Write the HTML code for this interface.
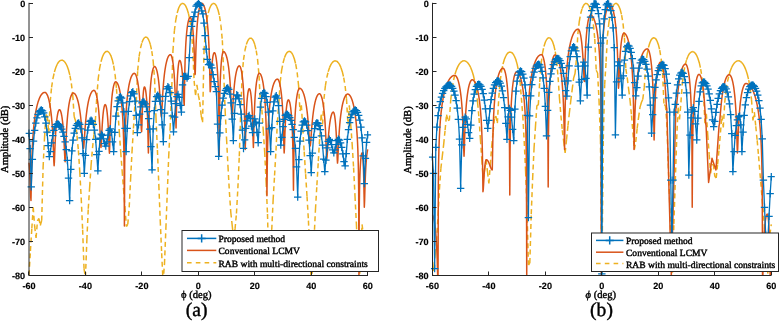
<!DOCTYPE html>
<html><head><meta charset="utf-8"><style>
html,body{margin:0;padding:0;background:#fff;}
svg{display:block;}
text{text-rendering:geometricPrecision;}
.tk{font-family:"Liberation Sans",sans-serif;font-weight:bold;font-size:9.1px;fill:#000;stroke:#000;stroke-width:0.15px;}
.lg{font-family:"Liberation Serif",serif;font-size:9.56px;fill:#000;stroke:#000;stroke-width:0.4px;}
.yl{font-family:"Liberation Serif",serif;font-size:10.6px;fill:#000;stroke:#000;stroke-width:0.4px;}
.xl{font-family:"Liberation Serif",serif;font-size:10.6px;fill:#000;stroke:#000;stroke-width:0.4px;}
.sub{font-family:"Liberation Serif",serif;font-size:19.6px;fill:#000;stroke:#000;stroke-width:0.4px;}
</style></head><body>
<svg width="779" height="321" viewBox="0 0 779 321">
<rect width="779" height="321" fill="#fff"/>
<defs>
<clipPath id="c0"><rect x="25.50" y="0" width="345.70" height="275.80"/></clipPath>
<clipPath id="c1"><rect x="428.90" y="0" width="345.90" height="275.80"/></clipPath>
</defs>
<g clip-path="url(#c0)" fill="none" stroke-linejoin="round">
<path d="M29.00,275.30L30.41,251.01M30.41,251.01L31.82,228.55M31.82,228.55L33.23,207.30M33.23,207.30L34.64,226.19M34.64,226.19L36.06,237.90M36.06,237.90L37.47,220.90M37.47,220.90L38.88,218.35M38.88,218.35L40.29,225.43M40.29,225.43L41.70,220.41M41.70,220.41L43.11,166.99M43.11,166.99L44.52,137.75M44.52,137.75L45.94,114.57M45.94,114.57L47.35,116.35M47.35,116.35L48.76,133.25M48.76,133.25L50.17,101.84M50.17,101.84L51.58,87.43M51.58,87.43L52.99,78.35M52.99,78.35L54.40,72.03M54.40,72.03L55.81,67.48M55.81,67.48L57.22,64.22M57.22,64.22L58.64,61.99M58.64,61.99L60.05,60.64M60.05,60.64L61.46,60.10M61.46,60.10L62.87,60.33M62.87,60.33L64.28,61.35M64.28,61.35L65.69,63.21M65.69,63.21L67.10,66.04M67.10,66.04L68.52,70.03M68.52,70.03L69.93,75.56M69.93,75.56L71.34,83.36M71.34,83.36L72.75,95.12M72.75,95.12L74.16,116.48M74.16,116.48L75.57,120.94M75.57,120.94L76.98,135.67M76.98,135.67L78.39,150.41M78.39,150.41L79.81,172.06M79.81,172.06L81.22,198.34M81.22,198.34L82.63,229.74M82.63,229.74L84.04,268.84M84.04,268.84L85.45,277.34M85.45,277.34L86.86,239.94M86.86,239.94L88.27,208.76M88.27,208.76L89.68,186.90M89.68,186.90L91.09,165.04M91.09,165.04L92.51,148.14M92.51,148.14L93.92,134.54M93.92,134.54L95.33,120.94M95.33,120.94L96.74,97.80M96.74,97.80L98.15,79.27M98.15,79.27L99.56,68.70M99.56,68.70L100.97,61.76M100.97,61.76L102.39,57.02M102.39,57.02L103.80,53.88M103.80,53.88L105.21,52.01M105.21,52.01L106.62,51.26M106.62,51.26L108.03,51.58M108.03,51.58L109.44,52.99M109.44,52.99L110.85,55.60M110.85,55.60L112.26,59.64M112.26,59.64L113.67,65.60M113.67,65.60L115.09,74.45M115.09,74.45L116.50,88.82M116.50,88.82L117.91,112.10M117.91,112.10L119.32,132.19M119.32,132.19L120.73,152.28M120.73,152.28L122.14,170.87M122.14,170.87L123.55,189.09M123.55,189.09L124.96,207.30M124.96,207.30L126.38,226.73M126.38,226.73L127.79,224.30M127.79,224.30L129.20,207.30M129.20,207.30L130.61,178.97M130.61,178.97L132.02,151.66M132.02,151.66L133.43,128.48M133.43,128.48L134.84,105.30M134.84,105.30L136.25,101.78M136.25,101.78L137.67,70.57M137.67,70.57L139.08,56.57M139.08,56.57L140.49,48.11M140.49,48.11L141.90,42.65M141.90,42.65L143.31,39.22M143.31,39.22L144.72,37.40M144.72,37.40L146.13,36.99M146.13,36.99L147.54,37.95M147.54,37.95L148.96,40.38M148.96,40.38L150.37,44.55M150.37,44.55L151.78,51.05M151.78,51.05L153.19,61.25M153.19,61.25L154.60,79.35M154.60,79.35L156.01,118.05M156.01,118.05L157.42,149.93M157.42,149.93L158.84,185.20M158.84,185.20L160.25,220.62M160.25,220.62L161.66,253.20M161.66,253.20L163.07,282.10M163.07,282.10L164.48,263.86M164.48,263.86L165.89,228.32M165.89,228.32L167.30,192.42M167.30,192.42L168.71,156.30M168.71,156.30L170.12,127.97M170.12,127.97L171.54,95.54M171.54,95.54L172.95,50.83M172.95,50.83L174.36,30.96M174.36,30.96L175.77,20.00M175.77,20.00L177.18,12.95M177.18,12.95L178.59,8.27M178.59,8.27L180.00,5.28M180.00,5.28L181.41,3.68M181.41,3.68L182.83,3.32M182.83,3.32L184.24,4.05M184.24,4.05L185.65,5.87M185.65,5.87L187.06,8.94M187.06,8.94L188.47,13.54M188.47,13.54L189.88,20.25M189.88,20.25L191.29,30.37M191.29,30.37L192.70,47.68M192.70,47.68L194.12,80.93M194.12,80.93L195.53,95.10M195.53,95.10L196.94,84.90M196.94,84.90L198.35,95.10M198.35,95.10L199.76,101.90M199.76,101.90L201.17,115.50M201.17,115.50L202.58,122.30M202.58,122.30L204.00,50.83M204.00,50.83L205.41,30.96M205.41,30.96L206.82,20.00M206.82,20.00L208.23,12.95M208.23,12.95L209.64,8.27M209.64,8.27L211.05,5.28M211.05,5.28L212.46,3.68M212.46,3.68L213.87,3.33M213.87,3.33L215.28,4.22M215.28,4.22L216.70,6.46M216.70,6.46L218.11,10.29M218.11,10.29L219.52,16.19M219.52,16.19L220.93,25.23M220.93,25.23L222.34,40.34M222.34,40.34L223.75,74.26M223.75,74.26L225.16,110.97M225.16,110.97L226.58,139.30M226.58,139.30L227.99,166.50M227.99,166.50L229.40,192.00M229.40,192.00L230.81,212.53M230.81,212.53L232.22,225.61M232.22,225.61L233.63,238.68M233.63,238.68L235.04,228.94M235.04,228.94L236.45,213.48M236.45,213.48L237.87,188.17M237.87,188.17L239.28,156.30M239.28,156.30L240.69,113.80M240.69,113.80L242.10,75.63M242.10,75.63L243.51,59.81M243.51,59.81L244.92,50.54M244.92,50.54L246.33,44.58M246.33,44.58L247.74,40.79M247.74,40.79L249.16,38.67M249.16,38.67L250.57,37.98M250.57,37.98L251.98,38.67M251.98,38.67L253.39,40.79M253.39,40.79L254.80,44.58M254.80,44.58L256.21,50.54M256.21,50.54L257.62,59.81M257.62,59.81L259.03,75.63M259.03,75.63L260.44,104.20M260.44,104.20L261.86,109.55M261.86,109.55L263.27,130.80M263.27,130.80L264.68,152.05M264.68,152.05L266.09,181.99M266.09,181.99L267.50,214.10M267.50,214.10L268.91,269.96M268.91,269.96L270.32,268.84M270.32,268.84L271.74,229.74M271.74,229.74L273.15,199.65M273.15,199.65L274.56,175.57M274.56,175.57L275.97,150.63M275.97,150.63L277.38,122.30M277.38,122.30L278.79,103.66M278.79,103.66L280.20,82.09M280.20,82.09L281.61,70.46M281.61,70.46L283.02,62.94M283.02,62.94L284.44,57.83M284.44,57.83L285.85,54.40M285.85,54.40L287.26,52.29M287.26,52.29L288.67,51.32M288.67,51.32L290.08,51.43M290.08,51.43L291.49,52.62M291.49,52.62L292.90,54.97M292.90,54.97L294.31,58.70M294.31,58.70L295.73,64.22M295.73,64.22L297.14,72.36M297.14,72.36L298.55,85.24M298.55,85.24L299.96,111.02M299.96,111.02L301.37,105.30M301.37,105.30L302.78,128.48M302.78,128.48L304.19,151.66M304.19,151.66L305.60,174.08M305.60,174.08L307.02,196.32M307.02,196.32L308.43,220.62M308.43,220.62L309.84,253.20M309.84,253.20L311.25,282.10M311.25,282.10L312.66,268.24M312.66,268.24L314.07,238.16M314.07,238.16L315.48,209.28M315.48,209.28L316.89,185.20M316.89,185.20L318.31,161.12M318.31,161.12L319.72,137.75M319.72,137.75L321.13,114.57M321.13,114.57L322.54,124.35M322.54,124.35L323.95,98.95M323.95,98.95L325.36,85.99M325.36,85.99L326.77,77.59M326.77,77.59L328.19,71.68M328.19,71.68L329.60,67.41M329.60,67.41L331.01,64.38M331.01,64.38L332.42,62.33M332.42,62.33L333.83,61.15M333.83,61.15L335.24,60.76M335.24,60.76L336.65,61.15M336.65,61.15L338.06,62.33M338.06,62.33L339.47,64.38M339.47,64.38L340.89,67.41M340.89,67.41L342.30,71.68M342.30,71.68L343.71,77.59M343.71,77.59L345.12,85.99M345.12,85.99L346.53,98.95M346.53,98.95L347.94,124.35M347.94,124.35L349.35,105.30M349.35,105.30L350.76,124.92M350.76,124.92L352.18,144.53M352.18,144.53L353.59,167.63M353.59,167.63L355.00,195.97M355.00,195.97L356.41,224.30M356.41,224.30L357.82,258.30M357.82,258.30L359.23,282.10M359.23,282.10L360.64,258.30M360.64,258.30L362.05,224.30M362.05,224.30L363.47,236.20M363.47,236.20L364.88,248.10M364.88,248.10L366.29,257.17M366.29,257.17L367.70,266.23" stroke="#EDB120" stroke-width="1.5" stroke-dasharray="5,3.5"/>
<polyline points="29.00,162.71 29.28,165.81 29.56,169.75 29.85,174.70 30.13,180.88 30.41,188.40 30.69,196.37 30.98,200.50 31.26,186.66 31.54,171.33 31.82,160.57 32.10,152.54 32.39,146.21 32.67,140.99 32.95,136.57 33.23,132.75 33.52,129.39 33.80,126.40 34.08,123.71 34.36,121.27 34.65,119.04 34.93,117.00 35.21,115.11 35.49,113.37 35.77,111.76 36.06,110.25 36.34,108.85 36.62,107.54 36.90,106.32 37.19,105.17 37.47,104.09 37.75,103.09 38.03,102.14 38.31,101.25 38.60,100.42 38.88,99.64 39.16,98.91 39.44,98.23 39.73,97.59 40.01,97.00 40.29,96.44 40.57,95.93 40.85,95.46 41.14,95.02 41.42,94.62 41.70,94.25 41.98,93.92 42.27,93.63 42.55,93.36 42.83,93.13 43.11,92.93 43.39,92.76 43.68,92.62 43.96,92.52 44.24,92.44 44.52,92.40 44.81,92.38 45.09,92.41 45.37,92.51 45.65,92.68 45.94,92.91 46.22,93.22 46.50,93.59 46.78,94.04 47.06,94.56 47.35,95.16 47.63,95.83 47.91,96.59 48.19,97.44 48.48,98.38 48.76,99.43 49.04,100.57 49.32,101.84 49.60,103.22 49.89,104.75 50.17,106.42 50.45,108.26 50.73,110.30 51.02,112.55 51.30,115.05 51.58,117.84 51.86,120.99 52.14,124.56 52.43,128.65 52.71,133.41 52.99,139.02 53.27,145.70 53.56,153.54 53.84,161.66 54.12,165.82 54.40,161.97 54.68,154.29 54.97,146.78 55.25,140.37 55.53,135.03 55.81,130.56 56.10,126.78 56.38,123.58 56.66,120.84 56.94,118.51 57.23,116.51 57.51,114.83 57.79,113.42 58.07,112.25 58.35,111.33 58.64,110.62 58.92,110.12 59.20,109.82 59.48,109.72 59.77,109.81 60.05,110.07 60.33,110.52 60.61,111.16 60.89,111.98 61.18,113.02 61.46,114.27 61.74,115.75 62.02,117.49 62.31,119.53 62.59,121.88 62.87,124.61 63.15,127.77 63.43,131.45 63.72,135.74 64.00,140.76 64.28,146.58 64.56,153.02 64.85,159.02 65.13,161.74 65.41,157.82 65.69,150.01 65.97,142.36 66.26,135.80 66.54,130.27 66.82,125.58 67.10,121.55 67.39,118.04 67.67,114.96 67.95,112.24 68.23,109.82 68.52,107.65 68.80,105.71 69.08,103.96 69.36,102.39 69.64,100.98 69.93,99.71 70.21,98.58 70.49,97.57 70.77,96.68 71.06,95.89 71.34,95.21 71.62,94.63 71.90,94.15 72.18,93.75 72.47,93.45 72.75,93.23 73.03,93.10 73.31,93.06 73.60,93.09 73.88,93.17 74.16,93.31 74.44,93.50 74.72,93.75 75.01,94.06 75.29,94.43 75.57,94.85 75.85,95.34 76.14,95.89 76.42,96.51 76.70,97.19 76.98,97.95 77.26,98.78 77.55,99.69 77.83,100.69 78.11,101.77 78.39,102.95 78.68,104.23 78.96,105.63 79.24,107.14 79.52,108.79 79.81,110.58 80.09,112.53 80.37,114.66 80.65,116.98 80.93,119.54 81.22,122.34 81.50,125.42 81.78,128.80 82.06,132.50 82.35,136.47 82.63,140.56 82.91,144.42 83.19,147.35 83.47,148.48 83.76,147.20 84.04,143.92 84.32,139.71 84.60,135.33 84.89,131.16 85.17,127.31 85.45,123.82 85.73,120.66 86.01,117.79 86.30,115.19 86.58,112.82 86.86,110.65 87.14,108.67 87.43,106.85 87.71,105.17 87.99,103.63 88.27,102.21 88.55,100.91 88.84,99.70 89.12,98.59 89.40,97.57 89.68,96.63 89.97,95.76 90.25,94.98 90.53,94.26 90.81,93.61 91.10,93.03 91.38,92.50 91.66,92.04 91.94,91.64 92.22,91.29 92.51,91.00 92.79,90.76 93.07,90.58 93.35,90.44 93.64,90.37 93.92,90.34 94.20,90.40 94.48,90.57 94.76,90.86 95.05,91.26 95.33,91.79 95.61,92.44 95.89,93.23 96.18,94.15 96.46,95.21 96.74,96.44 97.02,97.83 97.30,99.41 97.59,101.19 97.87,103.19 98.15,105.46 98.43,108.02 98.72,110.92 99.00,114.22 99.28,118.00 99.56,122.35 99.84,127.37 100.13,133.10 100.41,139.31 100.69,144.96 100.97,147.46 101.26,144.92 101.54,139.25 101.82,133.11 102.10,127.57 102.39,122.84 102.67,118.85 102.95,115.52 103.23,112.74 103.51,110.46 103.80,108.60 104.08,107.13 104.36,106.02 104.64,105.24 104.93,104.77 105.21,104.62 105.49,104.78 105.77,105.25 106.05,106.04 106.34,107.18 106.62,108.69 106.90,110.59 107.18,112.95 107.47,115.82 107.75,119.31 108.03,123.53 108.31,128.65 108.59,134.85 108.88,142.14 109.16,149.56 109.44,153.24 109.72,145.97 110.01,134.62 110.29,125.28 110.57,117.95 110.85,112.07 111.13,107.23 111.42,103.17 111.70,99.72 111.98,96.75 112.26,94.19 112.55,91.96 112.83,90.02 113.11,88.34 113.39,86.90 113.68,85.66 113.96,84.61 114.24,83.75 114.52,83.05 114.80,82.52 115.09,82.14 115.37,81.91 115.65,81.84 115.93,81.88 116.22,81.99 116.50,82.18 116.78,82.45 117.06,82.80 117.34,83.23 117.63,83.74 117.91,84.34 118.19,85.02 118.47,85.81 118.76,86.69 119.04,87.67 119.32,88.77 119.60,89.99 119.88,91.34 120.17,92.84 120.45,94.50 120.73,96.33 121.01,98.37 121.30,100.64 121.58,103.19 121.86,106.06 122.14,109.31 122.42,113.07 122.71,117.45 122.99,122.69 123.27,129.16 123.55,137.55 123.84,149.42 124.12,169.60 124.40,226.00 124.68,164.78 124.97,144.51 125.25,132.62 125.53,124.20 125.81,117.71 126.09,112.44 126.38,108.02 126.66,104.22 126.94,100.92 127.22,98.00 127.51,95.39 127.79,93.06 128.07,90.95 128.35,89.03 128.63,87.29 128.92,85.70 129.20,84.25 129.48,82.93 129.76,81.71 130.05,80.61 130.33,79.60 130.61,78.68 130.89,77.85 131.17,77.10 131.46,76.42 131.74,75.82 132.02,75.29 132.30,74.82 132.59,74.42 132.87,74.09 133.15,73.82 133.43,73.61 133.71,73.46 134.00,73.37 134.28,73.34 134.56,73.39 134.84,73.55 135.13,73.82 135.41,74.19 135.69,74.68 135.97,75.28 136.26,76.01 136.54,76.86 136.82,77.84 137.10,78.96 137.38,80.24 137.67,81.68 137.95,83.30 138.23,85.12 138.51,87.16 138.80,89.46 139.08,92.05 139.36,94.98 139.64,98.31 139.92,102.12 140.21,106.50 140.49,111.54 140.77,117.30 141.05,123.57 141.34,129.28 141.62,131.82 141.90,125.96 142.18,116.10 142.46,107.76 142.75,101.35 143.03,96.48 143.31,92.83 143.59,90.17 143.88,88.35 144.16,87.29 144.44,86.94 144.72,87.12 145.00,87.68 145.29,88.62 145.57,89.98 145.85,91.79 146.13,94.10 146.42,97.01 146.70,100.63 146.98,105.15 147.26,110.89 147.55,118.33 147.83,128.38 148.11,142.09 148.39,152.90 148.67,137.91 148.96,122.19 149.24,111.40 149.52,103.47 149.80,97.29 150.09,92.28 150.37,88.12 150.65,84.60 150.93,81.59 151.21,78.99 151.50,76.73 151.78,74.78 152.06,73.09 152.34,71.63 152.63,70.38 152.91,69.33 153.19,68.46 153.47,67.76 153.75,67.22 154.04,66.84 154.32,66.62 154.60,66.54 154.88,66.60 155.17,66.79 155.45,67.09 155.73,67.53 156.01,68.09 156.29,68.79 156.58,69.64 156.86,70.63 157.14,71.77 157.42,73.09 157.71,74.59 157.99,76.29 158.27,78.22 158.55,80.39 158.84,82.84 159.12,85.61 159.40,88.75 159.68,92.30 159.96,96.33 160.25,100.86 160.53,105.83 160.81,110.90 161.09,115.12 161.38,116.86 161.66,114.66 161.94,109.56 162.22,103.72 162.50,98.21 162.79,93.30 163.07,88.97 163.35,85.16 163.63,81.79 163.92,78.79 164.20,76.10 164.48,73.69 164.76,71.52 165.04,69.55 165.33,67.76 165.61,66.13 165.89,64.66 166.17,63.32 166.46,62.10 166.74,60.99 167.02,59.99 167.30,59.09 167.58,58.29 167.87,57.57 168.15,56.94 168.43,56.39 168.71,55.92 169.00,55.52 169.28,55.20 169.56,54.96 169.84,54.78 170.13,54.68 170.41,54.64 170.69,54.73 170.97,55.00 171.25,55.46 171.54,56.11 171.82,56.96 172.10,58.02 172.38,59.31 172.67,60.85 172.95,62.65 173.23,64.77 173.51,67.25 173.79,70.14 174.08,73.54 174.36,77.57 174.64,82.42 174.92,88.38 175.21,95.93 175.49,105.83 175.77,118.73 176.05,128.08 176.33,115.12 176.62,100.35 176.90,90.02 177.18,82.51 177.46,76.81 177.75,72.36 178.03,68.86 178.31,66.10 178.59,63.97 178.87,62.38 179.16,61.28 179.44,60.63 179.72,60.42 180.00,60.56 180.29,60.97 180.57,61.65 180.85,62.64 181.13,63.93 181.42,65.56 181.70,67.55 181.98,69.96 182.26,72.85 182.54,76.27 182.83,80.34 183.11,85.15 183.39,90.76 183.67,96.98 183.96,102.72 184.24,105.30 184.52,88.51 184.80,72.18 185.08,61.23 185.37,53.25 185.65,47.07 185.93,42.07 186.21,37.93 186.50,34.45 186.78,31.47 187.06,28.92 187.34,26.72 187.62,24.82 187.91,23.20 188.19,21.81 188.47,20.65 188.75,19.69 189.04,18.92 189.32,18.33 189.60,17.91 189.88,17.66 190.16,17.58 190.45,17.70 190.73,18.05 191.01,18.64 191.29,19.49 191.58,20.59 191.86,21.99 192.14,23.69 192.42,25.74 192.71,28.19 192.99,31.10 193.27,34.56 193.55,38.69 193.83,43.69 194.12,49.81 194.40,57.36 194.68,66.37 194.96,74.60 195.25,73.96 195.53,63.30 195.81,52.92 196.09,44.70 196.37,38.15 196.66,32.82 196.94,28.36 197.22,24.59 197.50,21.34 197.79,18.53 198.07,16.07 198.35,13.92 198.63,12.04 198.91,10.39 199.20,8.95 199.48,7.70 199.76,6.63 200.04,5.72 200.33,4.97 200.61,4.36 200.89,3.89 201.17,3.56 201.45,3.37 201.74,3.30 202.02,3.34 202.30,3.46 202.58,3.66 202.87,3.95 203.15,4.32 203.43,4.78 203.71,5.32 204.00,5.96 204.28,6.70 204.56,7.54 204.84,8.48 205.12,9.54 205.41,10.72 205.69,12.04 205.97,13.50 206.25,15.12 206.54,16.92 206.82,18.92 207.10,21.16 207.38,23.66 207.66,26.48 207.95,29.68 208.23,33.36 208.51,37.63 208.79,42.71 209.08,48.89 209.36,56.68 209.64,66.97 209.92,80.83 210.20,91.70 210.49,89.59 210.77,84.70 211.05,79.16 211.33,74.01 211.62,69.53 211.90,65.73 212.18,62.54 212.46,59.89 212.74,57.71 213.03,55.97 213.31,54.61 213.59,53.62 213.87,52.96 214.16,52.64 214.44,52.63 214.72,52.87 215.00,53.35 215.29,54.08 215.57,55.08 215.85,56.35 216.13,57.93 216.41,59.86 216.70,62.17 216.98,64.95 217.26,68.27 217.54,72.28 217.83,77.20 218.11,83.39 218.39,91.53 218.67,103.08 218.95,122.29 219.24,156.30 219.52,117.20 219.80,97.69 220.08,86.15 220.37,78.08 220.65,72.01 220.93,67.25 221.21,63.43 221.49,60.34 221.78,57.83 222.06,55.82 222.34,54.25 222.62,53.06 222.91,52.23 223.19,51.74 223.47,51.58 223.75,51.62 224.03,51.74 224.32,51.94 224.60,52.23 224.88,52.59 225.16,53.04 225.45,53.59 225.73,54.22 226.01,54.95 226.29,55.77 226.58,56.71 226.86,57.75 227.14,58.92 227.42,60.21 227.70,61.65 227.99,63.24 228.27,65.01 228.55,66.96 228.83,69.14 229.12,71.56 229.40,74.28 229.68,77.33 229.96,80.80 230.24,84.77 230.53,89.35 230.81,94.69 231.09,100.91 231.37,107.92 231.66,114.69 231.94,117.88 232.22,116.21 232.50,112.11 232.78,107.15 233.07,102.24 233.35,97.74 233.63,93.72 233.91,90.15 234.20,86.99 234.48,84.18 234.76,81.67 235.04,79.44 235.32,77.45 235.61,75.67 235.89,74.08 236.17,72.66 236.45,71.41 236.74,70.30 237.02,69.33 237.30,68.50 237.58,67.78 237.87,67.19 238.15,66.70 238.43,66.33 238.71,66.07 238.99,65.91 239.28,65.86 239.56,65.94 239.84,66.19 240.12,66.61 240.41,67.20 240.69,67.97 240.97,68.93 241.25,70.09 241.53,71.47 241.82,73.10 242.10,74.99 242.38,77.18 242.66,79.73 242.95,82.70 243.23,86.18 243.51,90.30 243.79,95.27 244.07,101.41 244.36,109.29 244.64,119.98 244.92,135.36 245.20,149.50 245.49,141.59 245.77,129.77 246.05,120.38 246.33,113.19 246.61,107.56 246.90,103.06 247.18,99.43 247.46,96.49 247.74,94.12 248.03,92.23 248.31,90.78 248.59,89.72 248.87,89.03 249.16,88.68 249.44,88.68 249.72,89.02 250.00,89.72 250.28,90.77 250.57,92.22 250.85,94.10 251.13,96.46 251.41,99.39 251.70,103.00 251.98,107.46 252.26,113.04 252.54,120.11 252.82,129.24 253.11,140.37 253.39,147.46 253.67,138.46 253.95,125.79 254.24,115.96 254.52,108.43 254.80,102.46 255.08,97.58 255.36,93.52 255.65,90.08 255.93,87.14 256.21,84.61 256.49,82.43 256.78,80.55 257.06,78.93 257.34,77.56 257.62,76.40 257.90,75.44 258.19,74.67 258.47,74.08 258.75,73.67 259.03,73.42 259.32,73.34 259.60,73.39 259.88,73.54 260.16,73.79 260.45,74.15 260.73,74.61 261.01,75.18 261.29,75.86 261.57,76.66 261.86,77.59 262.14,78.65 262.42,79.85 262.70,81.21 262.99,82.74 263.27,84.46 263.55,86.39 263.83,88.56 264.11,91.01 264.40,93.80 264.68,96.99 264.96,100.67 265.24,105.00 265.53,110.18 265.81,116.60 266.09,124.92 266.37,136.66 266.65,156.30 266.94,195.74 267.22,169.67 267.50,151.25 267.78,139.73 268.07,131.44 268.35,125.00 268.63,119.75 268.91,115.33 269.19,111.54 269.48,108.22 269.76,105.29 270.04,102.67 270.32,100.31 270.61,98.17 270.89,96.23 271.17,94.46 271.45,92.84 271.74,91.35 272.02,89.99 272.30,88.74 272.58,87.59 272.86,86.53 273.15,85.56 273.43,84.67 273.71,83.86 273.99,83.13 274.28,82.46 274.56,81.86 274.84,81.33 275.12,80.86 275.40,80.44 275.69,80.09 275.97,79.79 276.25,79.55 276.53,79.36 276.82,79.23 277.10,79.15 277.38,79.12 277.66,79.18 277.94,79.37 278.23,79.69 278.51,80.14 278.79,80.72 279.07,81.44 279.36,82.31 279.64,83.33 279.92,84.53 280.20,85.90 280.48,87.47 280.77,89.26 281.05,91.29 281.33,93.61 281.61,96.26 281.90,99.29 282.18,102.81 282.46,106.92 282.74,111.80 283.03,117.71 283.31,125.05 283.59,134.39 283.87,145.70 284.15,152.90 284.44,148.08 284.72,139.22 285.00,131.12 285.28,124.51 285.57,119.16 285.85,114.80 286.13,111.23 286.41,108.30 286.69,105.91 286.98,103.97 287.26,102.45 287.54,101.30 287.82,100.49 288.11,100.02 288.39,99.86 288.67,99.97 288.95,100.31 289.23,100.88 289.52,101.69 289.80,102.76 290.08,104.10 290.36,105.74 290.65,107.71 290.93,110.06 291.21,112.87 291.49,116.21 291.77,120.23 292.06,125.15 292.34,131.30 292.62,139.33 292.90,150.56 293.19,168.21 293.47,190.30 293.75,163.64 294.03,145.18 294.32,133.72 294.60,125.54 294.88,119.24 295.16,114.17 295.44,109.97 295.73,106.43 296.01,103.39 296.29,100.78 296.57,98.52 296.86,96.56 297.14,94.86 297.42,93.40 297.70,92.15 297.98,91.09 298.27,90.22 298.55,89.52 298.83,88.98 299.11,88.60 299.40,88.38 299.68,88.30 299.96,88.33 300.24,88.40 300.52,88.54 300.81,88.72 301.09,88.96 301.37,89.25 301.65,89.60 301.94,90.00 302.22,90.46 302.50,90.99 302.78,91.57 303.06,92.22 303.35,92.94 303.63,93.72 303.91,94.58 304.19,95.52 304.48,96.54 304.76,97.65 305.04,98.86 305.32,100.17 305.61,101.58 305.89,103.12 306.17,104.79 306.45,106.61 306.73,108.59 307.02,110.75 307.30,113.12 307.58,115.71 307.86,118.57 308.15,121.72 308.43,125.20 308.71,129.02 308.99,133.16 309.27,137.48 309.56,141.63 309.84,144.85 310.12,146.10 310.40,145.02 310.69,142.18 310.97,138.42 311.25,134.42 311.53,130.52 311.81,126.89 312.10,123.56 312.38,120.53 312.66,117.77 312.94,115.27 313.23,112.98 313.51,110.91 313.79,109.01 314.07,107.27 314.35,105.69 314.64,104.23 314.92,102.91 315.20,101.69 315.48,100.59 315.77,99.58 316.05,98.67 316.33,97.85 316.61,97.11 316.90,96.45 317.18,95.87 317.46,95.36 317.74,94.92 318.02,94.56 318.31,94.26 318.59,94.03 318.87,93.87 319.15,93.77 319.44,93.74 319.72,93.79 320.00,93.95 320.28,94.22 320.56,94.60 320.85,95.09 321.13,95.70 321.41,96.43 321.69,97.28 321.98,98.27 322.26,99.41 322.54,100.69 322.82,102.15 323.10,103.79 323.39,105.64 323.67,107.71 323.95,110.06 324.23,112.70 324.52,115.71 324.80,119.15 325.08,123.12 325.36,127.74 325.64,133.19 325.93,139.64 326.21,147.11 326.49,154.63 326.77,158.34 327.06,156.91 327.34,153.31 327.62,148.81 327.90,144.26 328.19,140.02 328.47,136.21 328.75,132.80 329.03,129.79 329.31,127.12 329.60,124.75 329.88,122.66 330.16,120.81 330.44,119.18 330.73,117.75 331.01,116.51 331.29,115.44 331.57,114.53 331.85,113.78 332.14,113.17 332.42,112.70 332.70,112.36 332.98,112.17 333.27,112.10 333.55,112.26 333.83,112.73 334.11,113.53 334.39,114.68 334.68,116.19 334.96,118.11 335.24,120.49 335.52,123.40 335.81,126.93 336.09,131.23 336.37,136.48 336.65,142.91 336.93,150.65 337.22,158.84 337.50,163.10 337.78,160.38 338.06,154.37 338.35,147.85 338.63,141.91 338.91,136.71 339.19,132.19 339.48,128.24 339.76,124.76 340.04,121.66 340.32,118.89 340.60,116.40 340.89,114.14 341.17,112.09 341.45,110.22 341.73,108.51 342.02,106.94 342.30,105.50 342.58,104.18 342.86,102.97 343.14,101.85 343.43,100.84 343.71,99.90 343.99,99.05 344.27,98.28 344.56,97.58 344.84,96.96 345.12,96.39 345.40,95.90 345.68,95.47 345.97,95.09 346.25,94.78 346.53,94.53 346.81,94.33 347.10,94.19 347.38,94.11 347.66,94.08 347.94,94.10 348.22,94.17 348.51,94.29 348.79,94.45 349.07,94.65 349.35,94.91 349.64,95.21 349.92,95.56 350.20,95.96 350.48,96.42 350.77,96.93 351.05,97.49 351.33,98.11 351.61,98.79 351.89,99.53 352.18,100.34 352.46,101.22 352.74,102.17 353.02,103.20 353.31,104.31 353.59,105.52 353.87,106.83 354.15,108.24 354.43,109.77 354.72,111.44 355.00,113.25 355.28,115.23 355.56,117.40 355.85,119.79 356.13,122.45 356.41,125.41 356.69,128.76 356.97,132.59 357.26,137.04 357.54,142.34 357.82,148.86 358.10,157.30 358.39,169.24 358.67,189.66 358.95,278.70 359.23,210.37 359.51,190.28 359.80,178.83 360.08,171.06 360.36,165.40 360.64,161.17 360.93,158.00 361.21,155.70 361.49,154.12 361.77,153.20 362.06,152.90 362.34,153.46 362.62,155.17 362.90,158.19 363.18,162.77 363.47,169.45 363.75,179.25 364.03,193.91 364.31,207.30 364.60,201.03 364.88,190.61 365.16,181.73 365.44,174.69 365.72,169.05 366.01,164.45 366.29,160.65 366.57,157.49 366.85,154.84 367.14,152.63 367.42,150.80 367.70,149.31" stroke="#D95319" stroke-width="1.5"/>
<polyline points="29.00,133.25 30.13,148.71 31.26,186.90 32.39,159.36 33.52,141.14 34.64,130.29 35.77,123.00 36.90,117.87 38.03,114.28 39.16,111.89 40.29,110.51 41.42,110.06 42.55,110.78 43.68,112.99 44.81,116.93 45.94,123.05 47.06,132.23 48.19,145.61 49.32,156.64 50.45,151.65 51.58,142.94 52.71,135.60 53.84,130.27 54.97,126.71 56.10,124.67 57.22,124.00 58.35,124.30 59.48,125.21 60.61,126.78 61.74,129.07 62.87,132.21 64.00,136.39 65.13,141.96 66.26,149.55 67.39,160.48 68.52,178.03 69.64,200.50 70.77,169.40 71.90,150.90 73.03,140.17 74.16,133.14 75.29,128.40 76.42,125.30 77.55,123.55 78.68,122.98 79.81,124.41 80.93,128.98 82.06,137.77 83.19,153.63 84.32,173.30 85.45,155.38 86.58,139.56 87.71,130.09 88.84,124.37 89.97,121.25 91.09,120.26 92.22,121.25 93.35,124.35 94.48,130.02 95.61,139.36 96.74,154.68 97.87,170.92 99.00,151.38 100.13,138.04 101.26,134.20 102.39,135.45 103.51,138.98 104.64,143.64 105.77,146.10 106.90,141.92 108.03,135.02 109.16,130.34 110.29,128.76 111.42,131.99 112.55,141.91 113.67,151.54 114.80,132.37 115.93,116.22 117.06,106.68 118.19,100.93 119.32,97.80 120.45,96.80 121.58,98.24 122.71,102.87 123.84,111.82 124.96,128.39 126.09,151.54 127.22,128.42 128.35,111.42 129.48,101.68 130.61,95.86 131.74,92.71 132.87,91.70 134.00,93.88 135.13,101.03 136.25,115.44 137.38,132.50 138.51,124.83 139.64,114.16 140.77,106.89 141.90,102.85 143.03,101.56 144.16,102.13 145.29,103.87 146.42,106.95 147.54,111.65 148.67,118.60 149.80,129.11 150.93,146.56 152.06,169.90 153.19,128.92 154.32,110.62 155.45,101.31 156.58,96.57 157.71,95.10 158.84,96.52 159.96,101.03 161.09,109.65 162.22,124.77 163.35,141.68 164.48,113.03 165.61,96.48 166.74,88.88 167.87,86.60 169.00,88.01 170.12,92.50 171.25,101.04 172.38,115.87 173.51,131.82 174.64,117.17 175.77,103.53 176.90,96.56 178.03,94.42 179.16,97.25 180.29,105.37 181.41,112.10 182.54,84.90 183.67,76.40 184.80,76.40 185.93,76.40 187.06,78.10 188.19,76.40 189.32,57.70 190.45,35.60 191.58,26.42 192.70,21.32 193.83,16.73 194.96,12.14 196.09,6.02 197.22,4.66 198.35,3.30 199.48,4.49 200.61,5.68 201.74,10.78 202.87,13.84 204.00,23.02 205.12,35.60 206.25,49.20 207.38,59.40 208.51,64.50 209.64,63.82 210.77,65.18 211.90,67.90 213.03,74.70 214.16,81.50 215.28,86.60 216.41,91.70 217.54,124.00 218.67,156.30 219.80,132.96 220.93,115.51 222.06,105.00 223.19,98.05 224.32,93.35 225.45,90.27 226.58,88.53 227.70,87.96 228.83,89.40 229.96,94.00 231.09,102.89 232.22,119.15 233.35,140.66 234.48,113.37 235.61,98.79 236.74,94.76 237.87,95.76 238.99,98.88 240.12,104.61 241.25,114.11 242.38,130.07 243.51,148.48 244.64,139.84 245.77,128.46 246.90,120.95 248.03,116.82 249.16,115.50 250.28,118.27 251.41,126.12 252.54,132.50 253.67,124.19 254.80,118.90 255.93,122.20 257.06,132.44 258.19,142.70 259.32,123.03 260.44,107.17 261.57,98.38 262.70,93.81 263.83,92.38 264.96,93.38 266.09,96.54 267.22,102.35 268.35,112.07 269.48,128.96 270.61,151.54 271.74,127.56 272.86,110.85 273.99,101.86 275.12,97.23 276.25,95.78 277.38,98.03 278.51,105.50 279.64,121.37 280.77,145.08 281.90,137.41 283.02,126.74 284.15,119.47 285.28,115.43 286.41,114.14 287.54,114.50 288.67,115.62 289.80,117.53 290.93,120.37 292.06,124.32 293.19,129.73 294.31,137.26 295.44,148.32 296.57,166.93 297.70,197.10 298.83,159.72 299.96,141.16 301.09,131.09 302.22,125.16 303.35,121.96 304.48,120.94 305.60,121.93 306.73,125.04 307.86,130.74 308.99,140.13 310.12,155.67 311.25,172.62 312.38,153.21 313.51,137.41 314.64,128.64 315.77,124.07 316.89,122.64 318.02,123.36 319.15,125.60 320.28,129.57 321.41,135.77 322.54,145.15 323.67,159.21 324.80,171.60 325.93,160.24 327.06,147.96 328.19,141.36 329.31,139.30 330.44,140.66 331.57,144.59 332.70,149.95 333.83,152.90 334.96,149.95 336.09,144.59 337.22,140.66 338.35,139.30 339.47,140.15 340.60,142.75 341.73,147.27 342.86,153.80 343.99,161.54 345.12,165.82 346.25,153.61 347.38,139.39 348.51,129.55 349.64,122.64 350.76,117.69 351.89,114.20 353.02,111.85 354.15,110.50 355.28,110.06 356.41,110.63 357.54,112.38 358.67,115.46 359.80,120.19 360.93,127.19 362.05,137.84 363.18,155.94 364.31,183.50 365.44,158.37 366.57,142.28 367.70,134.76" stroke="#0072BD" stroke-width="1.3"/>
<path d="M25.30,133.25h7.4M29.00,129.55v7.4M26.43,148.71h7.4M30.13,145.01v7.4M27.56,186.90h7.4M31.26,183.20v7.4M28.69,159.36h7.4M32.39,155.66v7.4M29.82,141.14h7.4M33.52,137.44v7.4M30.94,130.29h7.4M34.64,126.59v7.4M32.07,123.00h7.4M35.77,119.30v7.4M33.20,117.87h7.4M36.90,114.17v7.4M34.33,114.28h7.4M38.03,110.58v7.4M35.46,111.89h7.4M39.16,108.19v7.4M36.59,110.51h7.4M40.29,106.81v7.4M37.72,110.06h7.4M41.42,106.36v7.4M38.85,110.78h7.4M42.55,107.08v7.4M39.98,112.99h7.4M43.68,109.29v7.4M41.11,116.93h7.4M44.81,113.23v7.4M42.23,123.05h7.4M45.94,119.35v7.4M43.36,132.23h7.4M47.06,128.53v7.4M44.49,145.61h7.4M48.19,141.91v7.4M45.62,156.64h7.4M49.32,152.94v7.4M46.75,151.65h7.4M50.45,147.95v7.4M47.88,142.94h7.4M51.58,139.24v7.4M49.01,135.60h7.4M52.71,131.90v7.4M50.14,130.27h7.4M53.84,126.57v7.4M51.27,126.71h7.4M54.97,123.01v7.4M52.40,124.67h7.4M56.10,120.97v7.4M53.52,124.00h7.4M57.22,120.30v7.4M54.65,124.30h7.4M58.35,120.60v7.4M55.78,125.21h7.4M59.48,121.51v7.4M56.91,126.78h7.4M60.61,123.08v7.4M58.04,129.07h7.4M61.74,125.37v7.4M59.17,132.21h7.4M62.87,128.51v7.4M60.30,136.39h7.4M64.00,132.69v7.4M61.43,141.96h7.4M65.13,138.26v7.4M62.56,149.55h7.4M66.26,145.85v7.4M63.69,160.48h7.4M67.39,156.78v7.4M64.81,178.03h7.4M68.52,174.33v7.4M65.94,200.50h7.4M69.64,196.80v7.4M67.07,169.40h7.4M70.77,165.70v7.4M68.20,150.90h7.4M71.90,147.20v7.4M69.33,140.17h7.4M73.03,136.47v7.4M70.46,133.14h7.4M74.16,129.44v7.4M71.59,128.40h7.4M75.29,124.70v7.4M72.72,125.30h7.4M76.42,121.60v7.4M73.85,123.55h7.4M77.55,119.85v7.4M74.98,122.98h7.4M78.68,119.28v7.4M76.11,124.41h7.4M79.81,120.71v7.4M77.23,128.98h7.4M80.93,125.28v7.4M78.36,137.77h7.4M82.06,134.07v7.4M79.49,153.63h7.4M83.19,149.93v7.4M80.62,173.30h7.4M84.32,169.60v7.4M81.75,155.38h7.4M85.45,151.68v7.4M82.88,139.56h7.4M86.58,135.86v7.4M84.01,130.09h7.4M87.71,126.39v7.4M85.14,124.37h7.4M88.84,120.67v7.4M86.27,121.25h7.4M89.97,117.55v7.4M87.39,120.26h7.4M91.09,116.56v7.4M88.52,121.25h7.4M92.22,117.55v7.4M89.65,124.35h7.4M93.35,120.65v7.4M90.78,130.02h7.4M94.48,126.32v7.4M91.91,139.36h7.4M95.61,135.66v7.4M93.04,154.68h7.4M96.74,150.98v7.4M94.17,170.92h7.4M97.87,167.22v7.4M95.30,151.38h7.4M99.00,147.68v7.4M96.43,138.04h7.4M100.13,134.34v7.4M97.56,134.20h7.4M101.26,130.50v7.4M98.69,135.45h7.4M102.39,131.75v7.4M99.81,138.98h7.4M103.51,135.28v7.4M100.94,143.64h7.4M104.64,139.94v7.4M102.07,146.10h7.4M105.77,142.40v7.4M103.20,141.92h7.4M106.90,138.22v7.4M104.33,135.02h7.4M108.03,131.32v7.4M105.46,130.34h7.4M109.16,126.64v7.4M106.59,128.76h7.4M110.29,125.06v7.4M107.72,131.99h7.4M111.42,128.29v7.4M108.85,141.91h7.4M112.55,138.21v7.4M109.97,151.54h7.4M113.67,147.84v7.4M111.10,132.37h7.4M114.80,128.67v7.4M112.23,116.22h7.4M115.93,112.52v7.4M113.36,106.68h7.4M117.06,102.98v7.4M114.49,100.93h7.4M118.19,97.23v7.4M115.62,97.80h7.4M119.32,94.10v7.4M116.75,96.80h7.4M120.45,93.10v7.4M117.88,98.24h7.4M121.58,94.54v7.4M119.01,102.87h7.4M122.71,99.17v7.4M120.14,111.82h7.4M123.84,108.12v7.4M121.26,128.39h7.4M124.96,124.69v7.4M122.39,151.54h7.4M126.09,147.84v7.4M123.52,128.42h7.4M127.22,124.72v7.4M124.65,111.42h7.4M128.35,107.72v7.4M125.78,101.68h7.4M129.48,97.98v7.4M126.91,95.86h7.4M130.61,92.16v7.4M128.04,92.71h7.4M131.74,89.01v7.4M129.17,91.70h7.4M132.87,88.00v7.4M130.30,93.88h7.4M134.00,90.18v7.4M131.43,101.03h7.4M135.13,97.33v7.4M132.56,115.44h7.4M136.25,111.74v7.4M133.68,132.50h7.4M137.38,128.80v7.4M134.81,124.83h7.4M138.51,121.13v7.4M135.94,114.16h7.4M139.64,110.46v7.4M137.07,106.89h7.4M140.77,103.19v7.4M138.20,102.85h7.4M141.90,99.15v7.4M139.33,101.56h7.4M143.03,97.86v7.4M140.46,102.13h7.4M144.16,98.43v7.4M141.59,103.87h7.4M145.29,100.17v7.4M142.72,106.95h7.4M146.42,103.25v7.4M143.84,111.65h7.4M147.54,107.95v7.4M144.97,118.60h7.4M148.67,114.90v7.4M146.10,129.11h7.4M149.80,125.41v7.4M147.23,146.56h7.4M150.93,142.86v7.4M148.36,169.90h7.4M152.06,166.20v7.4M149.49,128.92h7.4M153.19,125.22v7.4M150.62,110.62h7.4M154.32,106.92v7.4M151.75,101.31h7.4M155.45,97.61v7.4M152.88,96.57h7.4M156.58,92.87v7.4M154.01,95.10h7.4M157.71,91.40v7.4M155.14,96.52h7.4M158.84,92.82v7.4M156.26,101.03h7.4M159.96,97.33v7.4M157.39,109.65h7.4M161.09,105.95v7.4M158.52,124.77h7.4M162.22,121.07v7.4M159.65,141.68h7.4M163.35,137.98v7.4M160.78,113.03h7.4M164.48,109.33v7.4M161.91,96.48h7.4M165.61,92.78v7.4M163.04,88.88h7.4M166.74,85.18v7.4M164.17,86.60h7.4M167.87,82.90v7.4M165.30,88.01h7.4M169.00,84.31v7.4M166.43,92.50h7.4M170.12,88.80v7.4M167.55,101.04h7.4M171.25,97.34v7.4M168.68,115.87h7.4M172.38,112.17v7.4M169.81,131.82h7.4M173.51,128.12v7.4M170.94,117.17h7.4M174.64,113.47v7.4M172.07,103.53h7.4M175.77,99.83v7.4M173.20,96.56h7.4M176.90,92.86v7.4M174.33,94.42h7.4M178.03,90.72v7.4M175.46,97.25h7.4M179.16,93.55v7.4M176.59,105.37h7.4M180.29,101.67v7.4M177.72,112.10h7.4M181.41,108.40v7.4M178.84,84.90h7.4M182.54,81.20v7.4M179.97,76.40h7.4M183.67,72.70v7.4M181.10,76.40h7.4M184.80,72.70v7.4M182.23,76.40h7.4M185.93,72.70v7.4M183.36,78.10h7.4M187.06,74.40v7.4M184.49,76.40h7.4M188.19,72.70v7.4M185.62,57.70h7.4M189.32,54.00v7.4M186.75,35.60h7.4M190.45,31.90v7.4M187.88,26.42h7.4M191.58,22.72v7.4M189.00,21.32h7.4M192.70,17.62v7.4M190.13,16.73h7.4M193.83,13.03v7.4M191.26,12.14h7.4M194.96,8.44v7.4M192.39,6.02h7.4M196.09,2.32v7.4M193.52,4.66h7.4M197.22,0.96v7.4M194.65,3.30h7.4M198.35,-0.40v7.4M195.78,4.49h7.4M199.48,0.79v7.4M196.91,5.68h7.4M200.61,1.98v7.4M198.04,10.78h7.4M201.74,7.08v7.4M199.17,13.84h7.4M202.87,10.14v7.4M200.30,23.02h7.4M204.00,19.32v7.4M201.42,35.60h7.4M205.12,31.90v7.4M202.55,49.20h7.4M206.25,45.50v7.4M203.68,59.40h7.4M207.38,55.70v7.4M204.81,64.50h7.4M208.51,60.80v7.4M205.94,63.82h7.4M209.64,60.12v7.4M207.07,65.18h7.4M210.77,61.48v7.4M208.20,67.90h7.4M211.90,64.20v7.4M209.33,74.70h7.4M213.03,71.00v7.4M210.46,81.50h7.4M214.16,77.80v7.4M211.59,86.60h7.4M215.28,82.90v7.4M212.71,91.70h7.4M216.41,88.00v7.4M213.84,124.00h7.4M217.54,120.30v7.4M214.97,156.30h7.4M218.67,152.60v7.4M216.10,132.96h7.4M219.80,129.26v7.4M217.23,115.51h7.4M220.93,111.81v7.4M218.36,105.00h7.4M222.06,101.30v7.4M219.49,98.05h7.4M223.19,94.35v7.4M220.62,93.35h7.4M224.32,89.65v7.4M221.75,90.27h7.4M225.45,86.57v7.4M222.88,88.53h7.4M226.58,84.83v7.4M224.00,87.96h7.4M227.70,84.26v7.4M225.13,89.40h7.4M228.83,85.70v7.4M226.26,94.00h7.4M229.96,90.30v7.4M227.39,102.89h7.4M231.09,99.19v7.4M228.52,119.15h7.4M232.22,115.45v7.4M229.65,140.66h7.4M233.35,136.96v7.4M230.78,113.37h7.4M234.48,109.67v7.4M231.91,98.79h7.4M235.61,95.09v7.4M233.04,94.76h7.4M236.74,91.06v7.4M234.17,95.76h7.4M237.87,92.06v7.4M235.29,98.88h7.4M238.99,95.18v7.4M236.42,104.61h7.4M240.12,100.91v7.4M237.55,114.11h7.4M241.25,110.41v7.4M238.68,130.07h7.4M242.38,126.37v7.4M239.81,148.48h7.4M243.51,144.78v7.4M240.94,139.84h7.4M244.64,136.14v7.4M242.07,128.46h7.4M245.77,124.76v7.4M243.20,120.95h7.4M246.90,117.25v7.4M244.33,116.82h7.4M248.03,113.12v7.4M245.46,115.50h7.4M249.16,111.80v7.4M246.58,118.27h7.4M250.28,114.57v7.4M247.71,126.12h7.4M251.41,122.42v7.4M248.84,132.50h7.4M252.54,128.80v7.4M249.97,124.19h7.4M253.67,120.49v7.4M251.10,118.90h7.4M254.80,115.20v7.4M252.23,122.20h7.4M255.93,118.50v7.4M253.36,132.44h7.4M257.06,128.74v7.4M254.49,142.70h7.4M258.19,139.00v7.4M255.62,123.03h7.4M259.32,119.33v7.4M256.75,107.17h7.4M260.44,103.47v7.4M257.87,98.38h7.4M261.57,94.68v7.4M259.00,93.81h7.4M262.70,90.11v7.4M260.13,92.38h7.4M263.83,88.68v7.4M261.26,93.38h7.4M264.96,89.68v7.4M262.39,96.54h7.4M266.09,92.84v7.4M263.52,102.35h7.4M267.22,98.65v7.4M264.65,112.07h7.4M268.35,108.37v7.4M265.78,128.96h7.4M269.48,125.26v7.4M266.91,151.54h7.4M270.61,147.84v7.4M268.04,127.56h7.4M271.74,123.86v7.4M269.16,110.85h7.4M272.86,107.15v7.4M270.29,101.86h7.4M273.99,98.16v7.4M271.42,97.23h7.4M275.12,93.53v7.4M272.55,95.78h7.4M276.25,92.08v7.4M273.68,98.03h7.4M277.38,94.33v7.4M274.81,105.50h7.4M278.51,101.80v7.4M275.94,121.37h7.4M279.64,117.67v7.4M277.07,145.08h7.4M280.77,141.38v7.4M278.20,137.41h7.4M281.90,133.71v7.4M279.32,126.74h7.4M283.02,123.04v7.4M280.45,119.47h7.4M284.15,115.77v7.4M281.58,115.43h7.4M285.28,111.73v7.4M282.71,114.14h7.4M286.41,110.44v7.4M283.84,114.50h7.4M287.54,110.80v7.4M284.97,115.62h7.4M288.67,111.92v7.4M286.10,117.53h7.4M289.80,113.83v7.4M287.23,120.37h7.4M290.93,116.67v7.4M288.36,124.32h7.4M292.06,120.62v7.4M289.49,129.73h7.4M293.19,126.03v7.4M290.62,137.26h7.4M294.31,133.56v7.4M291.74,148.32h7.4M295.44,144.62v7.4M292.87,166.93h7.4M296.57,163.23v7.4M294.00,197.10h7.4M297.70,193.40v7.4M295.13,159.72h7.4M298.83,156.02v7.4M296.26,141.16h7.4M299.96,137.46v7.4M297.39,131.09h7.4M301.09,127.39v7.4M298.52,125.16h7.4M302.22,121.46v7.4M299.65,121.96h7.4M303.35,118.26v7.4M300.78,120.94h7.4M304.48,117.24v7.4M301.90,121.93h7.4M305.60,118.23v7.4M303.03,125.04h7.4M306.73,121.34v7.4M304.16,130.74h7.4M307.86,127.04v7.4M305.29,140.13h7.4M308.99,136.43v7.4M306.42,155.67h7.4M310.12,151.97v7.4M307.55,172.62h7.4M311.25,168.92v7.4M308.68,153.21h7.4M312.38,149.51v7.4M309.81,137.41h7.4M313.51,133.71v7.4M310.94,128.64h7.4M314.64,124.94v7.4M312.07,124.07h7.4M315.77,120.37v7.4M313.19,122.64h7.4M316.89,118.94v7.4M314.32,123.36h7.4M318.02,119.66v7.4M315.45,125.60h7.4M319.15,121.90v7.4M316.58,129.57h7.4M320.28,125.87v7.4M317.71,135.77h7.4M321.41,132.07v7.4M318.84,145.15h7.4M322.54,141.45v7.4M319.97,159.21h7.4M323.67,155.51v7.4M321.10,171.60h7.4M324.80,167.90v7.4M322.23,160.24h7.4M325.93,156.54v7.4M323.36,147.96h7.4M327.06,144.26v7.4M324.49,141.36h7.4M328.19,137.66v7.4M325.61,139.30h7.4M329.31,135.60v7.4M326.74,140.66h7.4M330.44,136.96v7.4M327.87,144.59h7.4M331.57,140.89v7.4M329.00,149.95h7.4M332.70,146.25v7.4M330.13,152.90h7.4M333.83,149.20v7.4M331.26,149.95h7.4M334.96,146.25v7.4M332.39,144.59h7.4M336.09,140.89v7.4M333.52,140.66h7.4M337.22,136.96v7.4M334.65,139.30h7.4M338.35,135.60v7.4M335.77,140.15h7.4M339.47,136.45v7.4M336.90,142.75h7.4M340.60,139.05v7.4M338.03,147.27h7.4M341.73,143.57v7.4M339.16,153.80h7.4M342.86,150.10v7.4M340.29,161.54h7.4M343.99,157.84v7.4M341.42,165.82h7.4M345.12,162.12v7.4M342.55,153.61h7.4M346.25,149.91v7.4M343.68,139.39h7.4M347.38,135.69v7.4M344.81,129.55h7.4M348.51,125.85v7.4M345.94,122.64h7.4M349.64,118.94v7.4M347.06,117.69h7.4M350.76,113.99v7.4M348.19,114.20h7.4M351.89,110.50v7.4M349.32,111.85h7.4M353.02,108.15v7.4M350.45,110.50h7.4M354.15,106.80v7.4M351.58,110.06h7.4M355.28,106.36v7.4M352.71,110.63h7.4M356.41,106.93v7.4M353.84,112.38h7.4M357.54,108.68v7.4M354.97,115.46h7.4M358.67,111.76v7.4M356.10,120.19h7.4M359.80,116.49v7.4M357.23,127.19h7.4M360.93,123.49v7.4M358.35,137.84h7.4M362.05,134.14v7.4M359.48,155.94h7.4M363.18,152.24v7.4M360.61,183.50h7.4M364.31,179.80v7.4M361.74,158.37h7.4M365.44,154.67v7.4M362.87,142.28h7.4M366.57,138.58v7.4M364.00,134.76h7.4M367.70,131.06v7.4" stroke="#0072BD" stroke-width="1.25"/>
</g>
<g clip-path="url(#c1)" fill="none" stroke-linejoin="round">
<path d="M432.40,279.55L433.81,266.80M433.81,266.80L435.22,254.05M435.22,254.05L436.64,241.30M436.64,241.30L438.05,215.15M438.05,215.15L439.46,188.99M439.46,188.99L440.87,168.44M440.87,168.44L442.28,156.30M442.28,156.30L443.70,144.16M443.70,144.16L445.11,130.03M445.11,130.03L446.52,114.57M446.52,114.57L447.93,119.93M447.93,119.93L449.34,120.48M449.34,120.48L450.76,99.68M450.76,99.68L452.17,87.97M452.17,87.97L453.58,80.04M453.58,80.04L454.99,74.25M454.99,74.25L456.41,69.89M456.41,69.89L457.82,66.60M457.82,66.60L459.23,64.15M459.23,64.15L460.64,62.42M460.64,62.42L462.05,61.32M462.05,61.32L463.47,60.81M463.47,60.81L464.88,60.86M464.88,60.86L466.29,61.49M466.29,61.49L467.70,62.71M467.70,62.71L469.11,64.58M469.11,64.58L470.53,67.19M470.53,67.19L471.94,70.67M471.94,70.67L473.35,75.28M473.35,75.28L474.76,81.42M474.76,81.42L476.17,89.93M476.17,89.93L477.59,102.79M477.59,102.79L479.00,118.05M479.00,118.05L480.41,139.30M480.41,139.30L481.82,159.70M481.82,159.70L483.23,180.10M483.23,180.10L484.65,169.90M484.65,169.90L486.06,159.70M486.06,159.70L487.47,171.60M487.47,171.60L488.88,183.50M488.88,183.50L490.30,164.80M490.30,164.80L491.71,146.10M491.71,146.10L493.12,131.93M493.12,131.93L494.53,117.77M494.53,117.77L495.94,116.25M495.94,116.25L497.36,123.16M497.36,123.16L498.77,97.71M498.77,97.71L500.18,80.96M500.18,80.96L501.59,70.94M501.59,70.94L503.00,64.13M503.00,64.13L504.42,59.31M504.42,59.31L505.83,55.92M505.83,55.92L507.24,53.65M507.24,53.65L508.65,52.35M508.65,52.35L510.06,51.92M510.06,51.92L511.48,52.35M511.48,52.35L512.89,53.65M512.89,53.65L514.30,55.92M514.30,55.92L515.71,59.31M515.71,59.31L517.12,64.13M517.12,64.13L518.54,70.94M518.54,70.94L519.95,80.96M519.95,80.96L521.36,97.71M521.36,97.71L522.77,115.50M522.77,115.50L524.19,141.00M524.19,141.00L525.60,171.41M525.60,171.41L527.01,209.19M527.01,209.19L528.42,265.10M528.42,265.10L529.83,262.97M529.83,262.97L531.25,214.10M531.25,214.10L532.66,177.98M532.66,177.98L534.07,147.80M534.07,147.80L535.48,126.55M535.48,126.55L536.89,105.30M536.89,105.30L538.31,105.16M538.31,105.16L539.72,82.02M539.72,82.02L541.13,63.58M541.13,63.58L542.54,53.17M542.54,53.17L543.95,46.44M543.95,46.44L545.37,42.00M545.37,42.00L546.78,39.24M546.78,39.24L548.19,37.86M548.19,37.86L549.60,37.74M549.60,37.74L551.01,38.86M551.01,38.86L552.43,41.33M552.43,41.33L553.84,45.40M553.84,45.40L555.25,51.59M555.25,51.59L556.66,61.08M556.66,61.08L558.08,77.18M558.08,77.18L559.49,98.50M559.49,98.50L560.90,115.50M560.90,115.50L562.31,130.23M562.31,130.23L563.72,141.57M563.72,141.57L565.14,152.90M565.14,152.90L566.55,139.30M566.55,139.30L567.96,125.70M567.96,125.70L569.37,112.95M569.37,112.95L570.78,100.77M570.78,100.77L572.20,89.43M572.20,89.43L573.61,78.10M573.61,78.10L575.02,73.59M575.02,73.59L576.43,59.36M576.43,59.36L577.84,34.17M577.84,34.17L579.26,21.60M579.26,21.60L580.67,13.78M580.67,13.78L582.08,8.67M582.08,8.67L583.49,5.44M583.49,5.44L584.90,3.71M584.90,3.71L586.32,3.32M586.32,3.32L587.73,4.20M587.73,4.20L589.14,6.40M589.14,6.40L590.55,10.14M590.55,10.14L591.97,15.88M591.97,15.88L593.38,24.62M593.38,24.62L594.79,39.04M594.79,39.04L596.20,70.23M596.20,70.23L597.61,73.00M597.61,73.00L599.03,100.44M599.03,100.44L600.44,139.30M600.44,139.30L601.85,282.10M601.85,282.10L603.26,139.30M603.26,139.30L604.67,84.90M604.67,84.90L606.09,61.65M606.09,61.65L607.50,35.43M607.50,35.43L608.91,22.55M608.91,22.55L610.32,14.53M610.32,14.53L611.73,9.25M611.73,9.25L613.15,5.84M613.15,5.84L614.56,3.92M614.56,3.92L615.97,3.30M615.97,3.30L617.38,3.95M617.38,3.95L618.79,5.96M618.79,5.96L620.21,9.52M620.21,9.52L621.62,15.09M621.62,15.09L623.03,23.63M623.03,23.63L624.44,37.68M624.44,37.68L625.86,68.92M625.86,68.92L627.27,78.10M627.27,78.10L628.68,89.43M628.68,89.43L630.09,100.77M630.09,100.77L631.50,115.50M631.50,115.50L632.92,132.50M632.92,132.50L634.33,149.50M634.33,149.50L635.74,142.02M635.74,142.02L637.15,128.42M637.15,128.42L638.56,117.54M638.56,117.54L639.98,107.34M639.98,107.34L641.39,102.58M641.39,102.58L642.80,99.18M642.80,99.18L644.21,87.86M644.21,87.86L645.62,66.37M645.62,66.37L647.04,54.89M647.04,54.89L648.45,47.58M648.45,47.58L649.86,42.74M649.86,42.74L651.27,39.68M651.27,39.68L652.68,38.04M652.68,38.04L654.10,37.66M654.10,37.66L655.51,38.53M655.51,38.53L656.92,40.72M656.92,40.72L658.33,44.44M658.33,44.44L659.75,50.14M659.75,50.14L661.16,58.82M661.16,58.82L662.57,73.07M662.57,73.07L663.98,105.11M663.98,105.11L665.39,105.23M665.39,105.23L666.81,122.30M666.81,122.30L668.22,163.53M668.22,163.53L669.63,199.65M669.63,199.65L671.04,253.20M671.04,253.20L672.45,272.75M672.45,272.75L673.87,223.88M673.87,223.88L675.28,181.07M675.28,181.07L676.69,139.30M676.69,139.30L678.10,107.64M678.10,107.64L679.51,119.33M679.51,119.33L680.93,102.41M680.93,102.41L682.34,83.23M682.34,83.23L683.75,72.28M683.75,72.28L685.16,64.97M685.16,64.97L686.57,59.81M686.57,59.81L687.99,56.16M687.99,56.16L689.40,53.69M689.40,53.69L690.81,52.20M690.81,52.20L692.22,51.60M692.22,51.60L693.64,51.85M693.64,51.85L695.05,52.98M695.05,52.98L696.46,55.04M696.46,55.04L697.87,58.19M697.87,58.19L699.28,62.69M699.28,62.69L700.70,69.03M700.70,69.03L702.11,78.25M702.11,78.25L703.52,93.10M703.52,93.10L704.93,123.28M704.93,123.28L706.34,113.80M706.34,113.80L707.76,135.05M707.76,135.05L709.17,154.41M709.17,154.41L710.58,173.30M710.58,173.30L711.99,164.80M711.99,164.80L713.40,164.46M713.40,164.46L714.82,176.36M714.82,176.36L716.23,177.94M716.23,177.94L717.64,164.03M717.64,164.03L719.05,149.50M719.05,149.50L720.46,132.50M720.46,132.50L721.88,115.50M721.88,115.50L723.29,127.35M723.29,127.35L724.70,102.79M724.70,102.79L726.11,89.93M726.11,89.93L727.53,81.42M727.53,81.42L728.94,75.28M728.94,75.28L730.35,70.67M730.35,70.67L731.76,67.19M731.76,67.19L733.17,64.58M733.17,64.58L734.59,62.71M734.59,62.71L736.00,61.49M736.00,61.49L737.41,60.86M737.41,60.86L738.82,60.81M738.82,60.81L740.23,61.32M740.23,61.32L741.65,62.42M741.65,62.42L743.06,64.15M743.06,64.15L744.47,66.60M744.47,66.60L745.88,69.89M745.88,69.89L747.29,74.25M747.29,74.25L748.71,80.04M748.71,80.04L750.12,87.97M750.12,87.97L751.53,99.68M751.53,99.68L752.94,120.48M752.94,120.48L754.36,112.10M754.36,112.10L755.77,126.27M755.77,126.27L757.18,140.43M757.18,140.43L758.59,156.30M758.59,156.30L760.00,173.30M760.00,173.30L761.42,190.30M761.42,190.30L762.83,207.30M762.83,207.30L764.24,224.30M764.24,224.30L765.65,258.30M765.65,258.30L767.06,282.10M767.06,282.10L768.48,263.40M768.48,263.40L769.89,234.50M769.89,234.50L771.30,224.30" stroke="#EDB120" stroke-width="1.5" stroke-dasharray="5,3.5"/>
<polyline points="432.40,214.72 432.68,215.21 432.96,215.85 433.25,216.64 433.53,217.59 433.81,218.72 434.09,220.03 434.38,221.55 434.66,223.30 434.94,225.29 435.22,227.58 435.51,230.21 435.79,233.24 436.07,236.76 436.35,240.89 436.64,245.83 436.92,251.88 437.20,259.50 437.48,269.51 437.77,278.70 438.05,278.70 438.33,182.46 438.61,162.00 438.90,150.05 439.18,141.58 439.46,135.02 439.74,129.67 440.03,125.17 440.31,121.28 440.59,117.86 440.87,114.81 441.15,112.07 441.44,109.58 441.72,107.31 442.00,105.21 442.28,103.28 442.57,101.48 442.85,99.81 443.13,98.24 443.41,96.78 443.70,95.40 443.98,94.11 444.26,92.89 444.54,91.73 444.83,90.65 445.11,89.62 445.39,88.64 445.67,87.72 445.96,86.84 446.24,86.01 446.52,85.23 446.80,84.48 447.09,83.77 447.37,83.10 447.65,82.47 447.93,81.87 448.22,81.30 448.50,80.77 448.78,80.26 449.06,79.78 449.35,79.33 449.63,78.91 449.91,78.51 450.19,78.14 450.47,77.80 450.76,77.48 451.04,77.19 451.32,76.91 451.60,76.66 451.89,76.44 452.17,76.24 452.45,76.05 452.73,75.90 453.02,75.76 453.30,75.64 453.58,75.55 453.86,75.47 454.15,75.42 454.43,75.39 454.71,75.38 454.99,75.41 455.28,75.51 455.56,75.68 455.84,75.92 456.12,76.22 456.41,76.60 456.69,77.04 456.97,77.57 457.25,78.16 457.54,78.84 457.82,79.61 458.10,80.46 458.38,81.41 458.66,82.45 458.95,83.60 459.23,84.87 459.51,86.27 459.79,87.80 460.08,89.49 460.36,91.34 460.64,93.39 460.92,95.67 461.21,98.20 461.49,101.03 461.77,104.23 462.05,107.88 462.34,112.09 462.62,117.04 462.90,122.97 463.18,130.25 463.47,139.32 463.75,149.92 464.03,156.30 464.31,150.13 464.60,139.75 464.88,130.79 465.16,123.58 465.44,117.70 465.73,112.80 466.01,108.64 466.29,105.04 466.57,101.91 466.85,99.14 467.14,96.68 467.42,94.49 467.70,92.53 467.98,90.76 468.27,89.18 468.55,87.76 468.83,86.49 469.11,85.35 469.40,84.33 469.68,83.43 469.96,82.65 470.24,81.96 470.53,81.38 470.81,80.89 471.09,80.49 471.37,80.19 471.66,79.97 471.94,79.84 472.22,79.80 472.50,79.83 472.79,79.90 473.07,80.03 473.35,80.21 473.63,80.43 473.92,80.72 474.20,81.05 474.48,81.44 474.76,81.89 475.04,82.40 475.33,82.96 475.61,83.59 475.89,84.28 476.17,85.05 476.46,85.88 476.74,86.79 477.02,87.78 477.30,88.86 477.59,90.03 477.87,91.30 478.15,92.68 478.43,94.18 478.72,95.82 479.00,97.60 479.28,99.55 479.56,101.70 479.85,104.07 480.13,106.70 480.41,109.64 480.69,112.96 480.98,116.75 481.26,121.16 481.54,126.40 481.82,132.81 482.11,141.04 482.39,152.39 482.67,170.03 482.95,191.66 483.24,189.84 483.52,185.51 483.80,180.50 484.08,175.80 484.36,171.73 484.65,168.33 484.93,165.57 485.21,163.39 485.49,161.75 485.78,160.60 486.06,159.92 486.34,159.70 486.62,159.74 486.91,159.86 487.19,160.07 487.47,160.35 487.75,160.72 488.04,161.16 488.32,161.67 488.60,162.24 488.88,162.88 489.17,163.57 489.45,164.31 489.73,165.07 490.01,165.85 490.30,166.62 490.58,167.36 490.86,168.06 491.14,168.68 491.43,169.19 491.71,169.58 491.99,169.82 492.27,169.90 492.55,155.41 492.84,139.84 493.12,129.02 493.40,120.99 493.68,114.67 493.97,109.48 494.25,105.11 494.53,101.33 494.81,98.03 495.10,95.10 495.38,92.48 495.66,90.11 495.94,87.97 496.23,86.02 496.51,84.24 496.79,82.61 497.07,81.11 497.36,79.73 497.64,78.46 497.92,77.29 498.20,76.21 498.49,75.22 498.77,74.32 499.05,73.48 499.33,72.72 499.62,72.03 499.90,71.40 500.18,70.84 500.46,70.33 500.74,69.88 501.03,69.49 501.31,69.16 501.59,68.87 501.87,68.65 502.16,68.47 502.44,68.34 502.72,68.27 503.00,68.24 503.29,68.30 503.57,68.49 503.85,68.81 504.13,69.26 504.42,69.85 504.70,70.58 504.98,71.45 505.26,72.49 505.55,73.69 505.83,75.07 506.11,76.66 506.39,78.47 506.68,80.54 506.96,82.89 507.24,85.59 507.52,88.70 507.81,92.32 508.09,96.59 508.37,101.73 508.65,108.12 508.93,116.43 509.22,128.21 509.50,148.15 509.78,195.06 510.06,151.72 510.35,131.91 510.63,120.15 510.91,111.85 511.19,105.47 511.48,100.33 511.76,96.06 512.04,92.44 512.32,89.33 512.61,86.63 512.89,84.28 513.17,82.21 513.45,80.40 513.74,78.81 514.02,77.43 514.30,76.23 514.58,75.19 514.87,74.32 515.15,73.59 515.43,73.00 515.71,72.55 516.00,72.23 516.28,72.04 516.56,71.98 516.84,72.01 517.13,72.09 517.41,72.23 517.69,72.43 517.97,72.69 518.25,73.00 518.54,73.38 518.82,73.82 519.10,74.32 519.38,74.89 519.67,75.52 519.95,76.23 520.23,77.01 520.51,77.87 520.80,78.82 521.08,79.85 521.36,80.98 521.64,82.22 521.93,83.56 522.21,85.03 522.49,86.64 522.77,88.40 523.06,90.33 523.34,92.45 523.62,94.80 523.90,97.42 524.19,100.35 524.47,103.66 524.75,107.47 525.03,111.90 525.32,117.18 525.60,123.68 525.88,132.11 526.16,144.04 526.44,164.48 526.73,278.70 527.01,157.99 527.29,137.54 527.57,125.59 527.86,117.12 528.14,110.57 528.42,105.24 528.70,100.75 528.99,96.87 529.27,93.47 529.55,90.44 529.83,87.72 530.12,85.26 530.40,83.01 530.68,80.94 530.96,79.04 531.25,77.27 531.53,75.63 531.81,74.10 532.09,72.68 532.38,71.34 532.66,70.09 532.94,68.91 533.22,67.81 533.51,66.77 533.79,65.79 534.07,64.88 534.35,64.01 534.63,63.19 534.92,62.43 535.20,61.71 535.48,61.03 535.76,60.39 536.05,59.80 536.33,59.24 536.61,58.72 536.89,58.23 537.18,57.78 537.46,57.36 537.74,56.98 538.02,56.62 538.31,56.30 538.59,56.01 538.87,55.75 539.15,55.51 539.44,55.31 539.72,55.13 540.00,54.98 540.28,54.86 540.57,54.76 540.85,54.69 541.13,54.65 541.41,54.64 541.70,54.70 541.98,54.89 542.26,55.21 542.54,55.66 542.82,56.25 543.11,56.98 543.39,57.85 543.67,58.89 543.95,60.09 544.24,61.48 544.52,63.06 544.80,64.87 545.08,66.94 545.37,69.29 545.65,71.99 545.93,75.10 546.21,78.72 546.50,83.00 546.78,88.14 547.06,94.53 547.34,102.86 547.63,114.66 547.91,134.74 548.19,186.90 548.47,135.07 548.76,115.00 549.04,103.19 549.32,94.87 549.60,88.48 549.89,83.34 550.17,79.06 550.45,75.44 550.73,72.33 551.02,69.63 551.30,67.28 551.58,65.21 551.86,63.40 552.14,61.82 552.43,60.43 552.71,59.23 552.99,58.19 553.27,57.32 553.56,56.59 553.84,56.00 554.12,55.55 554.40,55.23 554.69,55.04 554.97,54.98 555.25,55.01 555.53,55.11 555.82,55.26 556.10,55.49 556.38,55.77 556.66,56.13 556.95,56.55 557.23,57.04 557.51,57.61 557.79,58.24 558.08,58.96 558.36,59.76 558.64,60.65 558.92,61.63 559.21,62.71 559.49,63.89 559.77,65.19 560.05,66.62 560.33,68.18 560.62,69.89 560.90,71.78 561.18,73.86 561.46,76.17 561.75,78.74 562.03,81.63 562.31,84.89 562.59,88.62 562.88,92.95 563.16,98.08 563.44,104.33 563.72,112.23 564.01,122.75 564.29,137.31 564.57,149.50 564.85,126.61 565.14,108.72 565.42,97.30 565.70,89.03 565.98,82.57 566.27,77.30 566.55,72.84 566.83,69.00 567.11,65.62 567.40,62.62 567.68,59.92 567.96,57.48 568.24,55.26 568.52,53.21 568.81,51.33 569.09,49.60 569.37,47.99 569.65,46.49 569.94,45.09 570.22,43.79 570.50,42.57 570.78,41.43 571.07,40.37 571.35,39.37 571.63,38.44 571.91,37.56 572.20,36.74 572.48,35.97 572.76,35.26 573.04,34.59 573.33,33.97 573.61,33.39 573.89,32.85 574.17,32.35 574.46,31.90 574.74,31.48 575.02,31.10 575.30,30.75 575.59,30.44 575.87,30.16 576.15,29.92 576.43,29.71 576.71,29.54 577.00,29.39 577.28,29.28 577.56,29.20 577.84,29.16 578.13,29.14 578.41,29.21 578.69,29.43 578.97,29.80 579.26,30.32 579.54,31.00 579.82,31.85 580.10,32.87 580.39,34.07 580.67,35.47 580.95,37.09 581.23,38.96 581.52,41.09 581.80,43.52 582.08,46.31 582.36,49.50 582.65,53.17 582.93,57.41 583.21,62.29 583.49,67.84 583.78,73.82 584.06,79.16 584.34,81.50 584.62,76.03 584.91,66.38 585.19,57.79 585.47,50.80 585.75,45.10 586.03,40.37 586.32,36.38 586.60,32.97 586.88,30.03 587.16,27.48 587.45,25.27 587.73,23.35 588.01,21.68 588.29,20.24 588.58,19.00 588.86,17.96 589.14,17.10 589.42,16.41 589.71,15.87 589.99,15.50 590.27,15.27 590.55,15.20 590.84,15.23 591.12,15.30 591.40,15.43 591.68,15.61 591.97,15.84 592.25,16.12 592.53,16.45 592.81,16.85 593.10,17.29 593.38,17.80 593.66,18.36 593.94,18.99 594.22,19.69 594.51,20.45 594.79,21.28 595.07,22.19 595.35,23.19 595.64,24.26 595.92,25.44 596.20,26.71 596.48,28.09 596.77,29.59 597.05,31.23 597.33,33.02 597.61,34.98 597.90,37.13 598.18,39.50 598.46,42.14 598.74,45.09 599.03,48.42 599.31,52.24 599.59,56.68 599.87,61.97 600.16,68.48 600.44,76.92 600.72,88.85 601.00,109.30 601.29,278.70 601.57,91.78 601.85,71.35 602.13,59.45 602.41,51.04 602.70,44.58 602.98,39.34 603.26,34.97 603.54,31.23 603.83,27.98 604.11,25.13 604.39,22.60 604.67,20.35 604.96,18.34 605.24,16.53 605.52,14.90 605.80,13.43 606.09,12.11 606.37,10.92 606.65,9.86 606.93,8.91 607.22,8.07 607.50,7.33 607.78,6.69 608.06,6.14 608.35,5.68 608.63,5.31 608.91,5.03 609.19,4.82 609.48,4.70 609.76,4.66 610.04,4.70 610.32,4.81 610.60,5.00 610.89,5.27 611.17,5.61 611.45,6.04 611.73,6.55 612.02,7.15 612.30,7.83 612.58,8.61 612.86,9.49 613.15,10.47 613.43,11.56 613.71,12.78 613.99,14.12 614.28,15.61 614.56,17.25 614.84,19.07 615.12,21.09 615.41,23.34 615.69,25.85 615.97,28.67 616.25,31.86 616.54,35.52 616.82,39.77 617.10,44.78 617.38,50.83 617.67,58.37 617.95,68.05 618.23,80.14 618.51,88.30 618.80,84.68 619.08,77.33 619.36,70.01 619.64,63.70 619.92,58.42 620.21,53.98 620.49,50.23 620.77,47.04 621.05,44.32 621.34,41.99 621.62,40.00 621.90,38.32 622.18,36.91 622.47,35.75 622.75,34.82 623.03,34.12 623.31,33.62 623.60,33.32 623.88,33.22 624.16,33.25 624.44,33.33 624.73,33.47 625.01,33.67 625.29,33.93 625.57,34.24 625.86,34.62 626.14,35.06 626.42,35.56 626.70,36.12 626.99,36.76 627.27,37.47 627.55,38.25 627.83,39.11 628.11,40.05 628.40,41.09 628.68,42.22 628.96,43.45 629.24,44.79 629.53,46.26 629.81,47.87 630.09,49.62 630.37,51.55 630.66,53.67 630.94,56.02 631.22,58.63 631.50,61.55 631.79,64.86 632.07,68.65 632.35,73.06 632.63,78.30 632.92,84.74 633.20,93.03 633.48,104.56 633.76,123.04 634.05,149.50 634.33,139.14 634.61,125.55 634.89,115.31 635.18,107.51 635.46,101.28 635.74,96.12 636.02,91.75 636.30,87.95 636.59,84.62 636.87,81.64 637.15,78.97 637.43,76.55 637.72,74.34 638.00,72.31 638.28,70.45 638.56,68.72 638.85,67.12 639.13,65.64 639.41,64.25 639.69,62.96 639.98,61.76 640.26,60.63 640.54,59.58 640.82,58.59 641.11,57.67 641.39,56.81 641.67,56.01 641.95,55.25 642.24,54.55 642.52,53.90 642.80,53.29 643.08,52.73 643.37,52.21 643.65,51.74 643.93,51.30 644.21,50.90 644.49,50.54 644.78,50.22 645.06,49.93 645.34,49.67 645.62,49.46 645.91,49.27 646.19,49.12 646.47,49.01 646.75,48.93 647.04,48.88 647.32,48.86 647.60,48.92 647.88,49.11 648.17,49.43 648.45,49.88 648.73,50.47 649.01,51.19 649.30,52.07 649.58,53.10 649.86,54.30 650.14,55.68 650.43,57.26 650.71,59.06 650.99,61.12 651.27,63.47 651.56,66.15 651.84,69.24 652.12,72.83 652.40,77.05 652.69,82.11 652.97,88.35 653.25,96.36 653.53,107.31 653.81,123.55 654.10,139.98 654.38,130.48 654.66,117.46 654.94,107.49 655.23,99.88 655.51,93.84 655.79,88.90 656.07,84.77 656.36,81.25 656.64,78.23 656.92,75.60 657.20,73.31 657.49,71.31 657.77,69.57 658.05,68.05 658.33,66.74 658.62,65.61 658.90,64.66 659.18,63.87 659.46,63.23 659.75,62.74 660.03,62.39 660.31,62.19 660.59,62.12 660.88,62.19 661.16,62.41 661.44,62.77 661.72,63.29 662.00,63.96 662.29,64.79 662.57,65.79 662.85,66.97 663.13,68.34 663.42,69.92 663.70,71.74 663.98,73.81 664.26,76.16 664.55,78.83 664.83,81.87 665.11,85.32 665.39,89.22 665.68,93.60 665.96,98.36 666.24,103.17 666.52,107.10 666.81,108.70 667.09,119.11 667.37,129.53 667.65,139.94 667.94,150.35 668.22,160.76 668.50,171.18 668.78,181.59 669.07,192.00 669.35,202.41 669.63,212.83 669.91,223.24 670.19,233.65 670.48,244.06 670.76,254.48 671.04,264.89 671.32,275.30 671.61,264.89 671.89,254.47 672.17,244.06 672.45,233.65 672.74,223.24 673.02,212.82 673.30,202.41 673.58,192.00 673.87,181.59 674.15,171.17 674.43,160.76 674.71,150.35 675.00,139.94 675.28,129.52 675.56,119.11 675.84,108.70 676.13,108.10 676.41,106.44 676.69,104.04 676.97,101.26 677.26,98.33 677.54,95.44 677.82,92.67 678.10,90.06 678.38,87.62 678.67,85.36 678.95,83.27 679.23,81.33 679.51,79.55 679.80,77.90 680.08,76.38 680.36,74.98 680.64,73.69 680.93,72.50 681.21,71.41 681.49,70.42 681.77,69.51 682.06,68.68 682.34,67.93 682.62,67.25 682.90,66.65 683.19,66.12 683.47,65.65 683.75,65.25 684.03,64.92 684.32,64.64 684.60,64.43 684.88,64.28 685.16,64.19 685.45,64.16 685.73,64.22 686.01,64.41 686.29,64.73 686.58,65.18 686.86,65.77 687.14,66.50 687.42,67.37 687.70,68.41 687.99,69.61 688.27,71.00 688.55,72.58 688.83,74.39 689.12,76.46 689.40,78.82 689.68,81.52 689.96,84.63 690.25,88.25 690.53,92.52 690.81,97.67 691.09,104.06 691.38,112.40 691.66,124.24 691.94,144.49 692.22,207.30 692.51,154.48 692.79,134.39 693.07,122.58 693.35,114.25 693.64,107.86 693.92,102.72 694.20,98.44 694.48,94.82 694.77,91.71 695.05,89.01 695.33,86.66 695.61,84.59 695.89,82.78 696.18,81.20 696.46,79.81 696.74,78.61 697.02,77.57 697.31,76.70 697.59,75.97 697.87,75.38 698.15,74.93 698.44,74.61 698.72,74.42 699.00,74.36 699.28,74.42 699.57,74.59 699.85,74.87 700.13,75.27 700.41,75.79 700.70,76.44 700.98,77.21 701.26,78.12 701.54,79.17 701.83,80.38 702.11,81.75 702.39,83.30 702.67,85.04 702.96,87.01 703.24,89.21 703.52,91.69 703.80,94.49 704.08,97.65 704.37,101.22 704.65,105.25 704.93,109.78 705.21,114.74 705.50,119.79 705.78,123.98 706.06,125.70 706.34,132.01 706.63,138.32 706.91,144.63 707.19,150.94 707.47,157.24 707.76,163.55 708.04,169.86 708.32,176.17 708.60,182.48 708.89,180.47 709.17,178.46 709.45,176.44 709.73,174.43 710.02,172.42 710.30,170.41 710.58,168.40 710.86,166.39 711.15,164.37 711.43,162.36 711.71,160.35 711.99,158.34 712.27,159.17 712.56,159.99 712.84,160.82 713.12,161.64 713.40,162.47 713.69,163.29 713.97,164.12 714.25,164.95 714.53,165.77 714.82,166.60 715.10,167.42 715.38,168.25 715.66,169.07 715.95,169.90 716.23,165.88 716.51,161.86 716.79,157.85 717.08,153.83 717.36,149.81 717.64,145.79 717.92,141.77 718.21,137.75 718.49,133.74 718.77,129.72 719.05,125.70 719.34,124.86 719.62,122.61 719.90,119.50 720.18,116.04 720.47,112.56 720.75,109.23 721.03,106.11 721.31,103.22 721.59,100.57 721.88,98.13 722.16,95.89 722.44,93.83 722.72,91.94 723.01,90.19 723.29,88.59 723.57,87.10 723.85,85.74 724.14,84.48 724.42,83.31 724.70,82.25 724.98,81.26 725.27,80.36 725.55,79.54 725.83,78.79 726.11,78.11 726.40,77.50 726.68,76.96 726.96,76.48 727.24,76.05 727.53,75.69 727.81,75.39 728.09,75.14 728.37,74.95 728.66,74.81 728.94,74.73 729.22,74.70 729.50,74.74 729.78,74.87 730.07,75.09 730.35,75.40 730.63,75.79 730.91,76.28 731.20,76.86 731.48,77.55 731.76,78.34 732.04,79.24 732.33,80.25 732.61,81.39 732.89,82.67 733.17,84.09 733.46,85.67 733.74,87.44 734.02,89.40 734.30,91.60 734.59,94.06 734.87,96.84 735.15,99.99 735.43,103.59 735.72,107.78 736.00,112.71 736.28,118.64 736.56,125.97 736.85,135.18 737.13,146.13 737.41,152.90 737.69,149.05 737.97,141.34 738.26,133.75 738.54,127.21 738.82,121.69 739.10,117.00 739.39,112.96 739.67,109.44 739.95,106.35 740.23,103.61 740.52,101.17 740.80,98.98 741.08,97.01 741.36,95.24 741.65,93.64 741.93,92.20 742.21,90.90 742.49,89.73 742.78,88.68 743.06,87.74 743.34,86.91 743.62,86.18 743.91,85.55 744.19,85.01 744.47,84.55 744.75,84.19 745.04,83.90 745.32,83.70 745.60,83.58 745.88,83.54 746.16,83.55 746.45,83.58 746.73,83.63 747.01,83.71 747.29,83.80 747.58,83.92 747.86,84.06 748.14,84.21 748.42,84.40 748.71,84.60 748.99,84.82 749.27,85.07 749.55,85.35 749.84,85.64 750.12,85.96 750.40,86.30 750.68,86.67 750.97,87.07 751.25,87.49 751.53,87.94 751.81,88.42 752.10,88.93 752.38,89.46 752.66,90.03 752.94,90.63 753.23,91.26 753.51,91.93 753.79,92.64 754.07,93.39 754.36,94.17 754.64,95.00 754.92,95.88 755.20,96.80 755.48,97.78 755.77,98.81 756.05,99.89 756.33,101.05 756.61,102.27 756.90,103.56 757.18,104.94 757.46,106.40 757.74,107.97 758.03,109.64 758.31,111.44 758.59,113.37 758.87,115.47 759.16,117.74 759.44,120.23 759.72,122.97 760.00,126.02 760.29,129.44 760.57,133.33 760.85,137.83 761.13,143.18 761.42,149.74 761.70,158.21 761.98,170.16 762.26,190.61 762.55,278.70 762.83,277.69 763.11,262.15 763.39,251.48 763.67,243.68 763.96,237.67 764.24,232.86 764.52,228.93 764.80,225.68 765.09,222.97 765.37,220.72 765.65,218.86 765.93,217.35 766.22,216.15 766.50,215.24 766.78,214.60 767.06,214.23 767.35,214.10 767.63,214.46 767.91,215.56 768.19,217.45 768.48,220.24 768.76,224.10 769.04,229.36 769.32,236.55 769.61,246.72 769.89,261.65 770.17,275.30 770.45,271.75 770.74,264.68 771.02,257.90 771.30,252.39" stroke="#D95319" stroke-width="1.5"/>
<polyline points="432.40,157.15 433.53,173.35 434.66,268.50 435.79,147.38 436.92,127.13 438.05,115.52 439.18,107.53 440.31,101.60 441.44,97.03 442.57,93.45 443.70,90.65 444.83,88.49 445.96,86.88 447.09,85.77 448.22,85.12 449.34,84.90 450.47,85.27 451.60,86.38 452.73,88.30 453.86,91.15 454.99,95.12 456.12,100.57 457.25,108.17 458.38,119.45 459.51,139.16 460.64,188.26 461.77,144.88 462.90,127.32 464.03,119.52 465.16,117.20 466.29,118.94 467.42,124.26 468.55,132.65 469.68,138.28 470.81,125.09 471.94,110.53 473.07,100.75 474.20,94.08 475.33,89.50 476.46,86.49 477.59,84.78 478.72,84.22 479.85,84.76 480.98,86.43 482.11,89.34 483.23,93.73 484.36,100.01 485.49,108.80 486.62,120.40 487.75,128.42 488.88,120.35 490.01,108.62 491.14,99.62 492.27,93.06 493.40,88.28 494.53,84.87 495.66,82.58 496.79,81.25 497.92,80.82 499.05,81.38 500.18,83.11 501.31,86.15 502.44,90.78 503.57,97.56 504.70,107.63 505.83,123.28 506.96,139.30 508.09,116.88 509.22,108.36 510.35,110.42 511.48,117.02 512.61,129.30 513.74,140.66 514.87,109.15 516.00,91.04 517.12,81.06 518.25,75.16 519.38,71.97 520.51,70.96 521.64,71.71 522.77,74.04 523.90,78.23 525.03,84.91 526.16,95.62 527.29,115.32 528.42,217.50 529.55,115.85 530.68,95.84 531.81,84.63 532.94,77.21 534.07,72.03 535.20,68.41 536.33,66.00 537.46,64.61 538.59,64.16 539.72,64.90 540.85,67.21 541.98,71.36 543.11,77.93 544.24,88.33 545.37,106.49 546.50,135.90 547.63,110.36 548.76,92.34 549.89,81.41 551.01,73.93 552.14,68.54 553.27,64.60 554.40,61.77 555.53,59.85 556.66,58.74 557.79,58.38 558.92,58.91 560.05,60.52 561.18,63.33 562.31,67.51 563.44,73.37 564.57,81.24 565.70,90.61 566.83,96.12 567.96,80.81 569.09,65.80 570.22,56.54 571.35,50.89 572.48,47.81 573.61,46.82 574.74,47.82 575.87,50.94 577.00,56.68 578.13,66.19 579.26,82.22 580.39,100.88 581.52,79.69 582.65,66.02 583.78,62.12 584.90,65.85 586.03,78.47 587.16,95.10 588.29,47.12 589.42,27.83 590.55,17.21 591.68,10.55 592.81,6.37 593.94,4.05 595.07,3.30 596.20,4.32 597.33,7.55 598.46,13.54 599.59,23.77 600.72,43.22 601.85,273.94 602.98,37.98 604.11,18.99 605.24,9.56 606.37,4.78 607.50,3.30 608.63,4.05 609.76,6.38 610.89,10.57 612.02,17.25 613.15,27.95 614.28,47.64 615.41,134.88 616.54,81.94 617.67,65.99 618.79,61.78 619.92,65.52 621.05,78.22 622.18,95.10 623.31,75.95 624.44,60.21 625.57,51.45 626.70,46.89 627.83,45.46 628.96,46.18 630.09,48.43 631.22,52.42 632.35,58.66 633.48,68.15 634.61,82.57 635.74,95.78 636.87,87.62 638.00,76.24 639.13,68.12 640.26,62.90 641.39,60.00 642.52,59.06 643.65,59.63 644.78,61.38 645.91,64.47 647.04,69.20 648.17,76.20 649.30,86.87 650.43,105.04 651.56,133.18 652.68,114.52 653.81,97.90 654.94,87.29 656.07,79.93 657.20,74.59 658.33,70.68 659.46,67.87 660.59,65.97 661.72,64.86 662.85,64.50 663.98,65.48 665.11,68.55 666.24,74.16 667.37,83.30 668.50,97.90 669.63,112.10 670.76,180.10 671.89,248.10 673.02,180.10 674.15,112.10 675.28,104.41 676.41,93.20 677.54,84.78 678.67,78.97 679.80,75.17 680.93,73.02 682.06,72.32 683.19,73.34 684.32,76.56 685.45,82.54 686.57,92.75 687.70,112.04 688.83,175.00 689.96,135.17 691.09,117.76 692.22,109.99 693.35,107.68 694.48,111.39 695.61,123.87 696.74,139.98 697.87,118.21 699.00,101.47 700.13,91.79 701.26,85.99 702.39,82.84 703.52,81.84 704.65,82.27 705.78,83.58 706.91,85.85 708.04,89.22 709.17,93.92 710.30,100.33 711.43,108.97 712.56,119.78 713.69,126.72 714.82,121.48 715.95,112.31 717.08,104.40 718.21,98.33 719.34,93.80 720.46,90.53 721.59,88.31 722.72,87.02 723.85,86.60 724.98,87.17 726.11,88.93 727.24,92.03 728.37,96.79 729.50,103.85 730.63,114.70 731.76,133.73 732.89,171.60 734.02,151.67 735.15,135.33 736.28,125.74 737.41,119.98 738.54,116.84 739.67,115.84 740.80,124.81 741.93,151.54 743.06,132.14 744.19,115.41 745.32,104.89 746.45,97.72 747.58,92.66 748.71,89.09 749.84,86.72 750.97,85.35 752.10,84.90 753.23,85.27 754.36,86.38 755.48,88.30 756.61,91.15 757.74,95.11 758.87,100.55 760.00,108.13 761.13,119.36 762.26,138.78 763.39,180.10 764.52,207.30 765.65,234.50 766.78,261.70 767.91,239.03 769.04,216.37 770.17,193.70 771.30,176.70" stroke="#0072BD" stroke-width="1.3"/>
<path d="M428.70,157.15h7.4M432.40,153.45v7.4M429.83,173.35h7.4M433.53,169.65v7.4M430.96,268.50h7.4M434.66,264.80v7.4M432.09,147.38h7.4M435.79,143.68v7.4M433.22,127.13h7.4M436.92,123.43v7.4M434.35,115.52h7.4M438.05,111.82v7.4M435.48,107.53h7.4M439.18,103.83v7.4M436.61,101.60h7.4M440.31,97.90v7.4M437.74,97.03h7.4M441.44,93.33v7.4M438.87,93.45h7.4M442.57,89.75v7.4M440.00,90.65h7.4M443.70,86.95v7.4M441.13,88.49h7.4M444.83,84.79v7.4M442.26,86.88h7.4M445.96,83.18v7.4M443.39,85.77h7.4M447.09,82.07v7.4M444.52,85.12h7.4M448.22,81.42v7.4M445.64,84.90h7.4M449.34,81.20v7.4M446.77,85.27h7.4M450.47,81.57v7.4M447.90,86.38h7.4M451.60,82.68v7.4M449.03,88.30h7.4M452.73,84.60v7.4M450.16,91.15h7.4M453.86,87.45v7.4M451.29,95.12h7.4M454.99,91.42v7.4M452.42,100.57h7.4M456.12,96.87v7.4M453.55,108.17h7.4M457.25,104.47v7.4M454.68,119.45h7.4M458.38,115.75v7.4M455.81,139.16h7.4M459.51,135.46v7.4M456.94,188.26h7.4M460.64,184.56v7.4M458.07,144.88h7.4M461.77,141.18v7.4M459.20,127.32h7.4M462.90,123.62v7.4M460.33,119.52h7.4M464.03,115.82v7.4M461.46,117.20h7.4M465.16,113.50v7.4M462.59,118.94h7.4M466.29,115.24v7.4M463.72,124.26h7.4M467.42,120.56v7.4M464.85,132.65h7.4M468.55,128.95v7.4M465.98,138.28h7.4M469.68,134.58v7.4M467.11,125.09h7.4M470.81,121.39v7.4M468.24,110.53h7.4M471.94,106.83v7.4M469.37,100.75h7.4M473.07,97.05v7.4M470.50,94.08h7.4M474.20,90.38v7.4M471.63,89.50h7.4M475.33,85.80v7.4M472.76,86.49h7.4M476.46,82.79v7.4M473.89,84.78h7.4M477.59,81.08v7.4M475.02,84.22h7.4M478.72,80.52v7.4M476.15,84.76h7.4M479.85,81.06v7.4M477.28,86.43h7.4M480.98,82.73v7.4M478.41,89.34h7.4M482.11,85.64v7.4M479.53,93.73h7.4M483.23,90.03v7.4M480.66,100.01h7.4M484.36,96.31v7.4M481.79,108.80h7.4M485.49,105.10v7.4M482.92,120.40h7.4M486.62,116.70v7.4M484.05,128.42h7.4M487.75,124.72v7.4M485.18,120.35h7.4M488.88,116.65v7.4M486.31,108.62h7.4M490.01,104.92v7.4M487.44,99.62h7.4M491.14,95.92v7.4M488.57,93.06h7.4M492.27,89.36v7.4M489.70,88.28h7.4M493.40,84.58v7.4M490.83,84.87h7.4M494.53,81.17v7.4M491.96,82.58h7.4M495.66,78.88v7.4M493.09,81.25h7.4M496.79,77.55v7.4M494.22,80.82h7.4M497.92,77.12v7.4M495.35,81.38h7.4M499.05,77.68v7.4M496.48,83.11h7.4M500.18,79.41v7.4M497.61,86.15h7.4M501.31,82.45v7.4M498.74,90.78h7.4M502.44,87.08v7.4M499.87,97.56h7.4M503.57,93.86v7.4M501.00,107.63h7.4M504.70,103.93v7.4M502.13,123.28h7.4M505.83,119.58v7.4M503.26,139.30h7.4M506.96,135.60v7.4M504.39,116.88h7.4M508.09,113.18v7.4M505.52,108.36h7.4M509.22,104.66v7.4M506.65,110.42h7.4M510.35,106.72v7.4M507.78,117.02h7.4M511.48,113.32v7.4M508.91,129.30h7.4M512.61,125.60v7.4M510.04,140.66h7.4M513.74,136.96v7.4M511.17,109.15h7.4M514.87,105.45v7.4M512.30,91.04h7.4M516.00,87.34v7.4M513.42,81.06h7.4M517.12,77.36v7.4M514.55,75.16h7.4M518.25,71.46v7.4M515.68,71.97h7.4M519.38,68.27v7.4M516.81,70.96h7.4M520.51,67.26v7.4M517.94,71.71h7.4M521.64,68.01v7.4M519.07,74.04h7.4M522.77,70.34v7.4M520.20,78.23h7.4M523.90,74.53v7.4M521.33,84.91h7.4M525.03,81.21v7.4M522.46,95.62h7.4M526.16,91.92v7.4M523.59,115.32h7.4M527.29,111.62v7.4M524.72,217.50h7.4M528.42,213.80v7.4M525.85,115.85h7.4M529.55,112.15v7.4M526.98,95.84h7.4M530.68,92.14v7.4M528.11,84.63h7.4M531.81,80.93v7.4M529.24,77.21h7.4M532.94,73.51v7.4M530.37,72.03h7.4M534.07,68.33v7.4M531.50,68.41h7.4M535.20,64.71v7.4M532.63,66.00h7.4M536.33,62.30v7.4M533.76,64.61h7.4M537.46,60.91v7.4M534.89,64.16h7.4M538.59,60.46v7.4M536.02,64.90h7.4M539.72,61.20v7.4M537.15,67.21h7.4M540.85,63.51v7.4M538.28,71.36h7.4M541.98,67.66v7.4M539.41,77.93h7.4M543.11,74.23v7.4M540.54,88.33h7.4M544.24,84.63v7.4M541.67,106.49h7.4M545.37,102.79v7.4M542.80,135.90h7.4M546.50,132.20v7.4M543.93,110.36h7.4M547.63,106.66v7.4M545.06,92.34h7.4M548.76,88.64v7.4M546.19,81.41h7.4M549.89,77.71v7.4M547.31,73.93h7.4M551.01,70.23v7.4M548.44,68.54h7.4M552.14,64.84v7.4M549.57,64.60h7.4M553.27,60.90v7.4M550.70,61.77h7.4M554.40,58.07v7.4M551.83,59.85h7.4M555.53,56.15v7.4M552.96,58.74h7.4M556.66,55.04v7.4M554.09,58.38h7.4M557.79,54.68v7.4M555.22,58.91h7.4M558.92,55.21v7.4M556.35,60.52h7.4M560.05,56.82v7.4M557.48,63.33h7.4M561.18,59.63v7.4M558.61,67.51h7.4M562.31,63.81v7.4M559.74,73.37h7.4M563.44,69.67v7.4M560.87,81.24h7.4M564.57,77.54v7.4M562.00,90.61h7.4M565.70,86.91v7.4M563.13,96.12h7.4M566.83,92.42v7.4M564.26,80.81h7.4M567.96,77.11v7.4M565.39,65.80h7.4M569.09,62.10v7.4M566.52,56.54h7.4M570.22,52.84v7.4M567.65,50.89h7.4M571.35,47.19v7.4M568.78,47.81h7.4M572.48,44.11v7.4M569.91,46.82h7.4M573.61,43.12v7.4M571.04,47.82h7.4M574.74,44.12v7.4M572.17,50.94h7.4M575.87,47.24v7.4M573.30,56.68h7.4M577.00,52.98v7.4M574.43,66.19h7.4M578.13,62.49v7.4M575.56,82.22h7.4M579.26,78.52v7.4M576.69,100.88h7.4M580.39,97.18v7.4M577.82,79.69h7.4M581.52,75.99v7.4M578.95,66.02h7.4M582.65,62.32v7.4M580.08,62.12h7.4M583.78,58.42v7.4M581.20,65.85h7.4M584.90,62.15v7.4M582.33,78.47h7.4M586.03,74.77v7.4M583.46,95.10h7.4M587.16,91.40v7.4M584.59,47.12h7.4M588.29,43.42v7.4M585.72,27.83h7.4M589.42,24.13v7.4M586.85,17.21h7.4M590.55,13.51v7.4M587.98,10.55h7.4M591.68,6.85v7.4M589.11,6.37h7.4M592.81,2.67v7.4M590.24,4.05h7.4M593.94,0.35v7.4M591.37,3.30h7.4M595.07,-0.40v7.4M592.50,4.32h7.4M596.20,0.62v7.4M593.63,7.55h7.4M597.33,3.85v7.4M594.76,13.54h7.4M598.46,9.84v7.4M595.89,23.77h7.4M599.59,20.07v7.4M597.02,43.22h7.4M600.72,39.52v7.4M598.15,273.94h7.4M601.85,270.24v7.4M599.28,37.98h7.4M602.98,34.28v7.4M600.41,18.99h7.4M604.11,15.29v7.4M601.54,9.56h7.4M605.24,5.86v7.4M602.67,4.78h7.4M606.37,1.08v7.4M603.80,3.30h7.4M607.50,-0.40v7.4M604.93,4.05h7.4M608.63,0.35v7.4M606.06,6.38h7.4M609.76,2.68v7.4M607.19,10.57h7.4M610.89,6.87v7.4M608.32,17.25h7.4M612.02,13.55v7.4M609.45,27.95h7.4M613.15,24.25v7.4M610.58,47.64h7.4M614.28,43.94v7.4M611.71,134.88h7.4M615.41,131.18v7.4M612.84,81.94h7.4M616.54,78.24v7.4M613.97,65.99h7.4M617.67,62.29v7.4M615.09,61.78h7.4M618.79,58.08v7.4M616.22,65.52h7.4M619.92,61.82v7.4M617.35,78.22h7.4M621.05,74.52v7.4M618.48,95.10h7.4M622.18,91.40v7.4M619.61,75.95h7.4M623.31,72.25v7.4M620.74,60.21h7.4M624.44,56.51v7.4M621.87,51.45h7.4M625.57,47.75v7.4M623.00,46.89h7.4M626.70,43.19v7.4M624.13,45.46h7.4M627.83,41.76v7.4M625.26,46.18h7.4M628.96,42.48v7.4M626.39,48.43h7.4M630.09,44.73v7.4M627.52,52.42h7.4M631.22,48.72v7.4M628.65,58.66h7.4M632.35,54.96v7.4M629.78,68.15h7.4M633.48,64.45v7.4M630.91,82.57h7.4M634.61,78.87v7.4M632.04,95.78h7.4M635.74,92.08v7.4M633.17,87.62h7.4M636.87,83.92v7.4M634.30,76.24h7.4M638.00,72.54v7.4M635.43,68.12h7.4M639.13,64.42v7.4M636.56,62.90h7.4M640.26,59.20v7.4M637.69,60.00h7.4M641.39,56.30v7.4M638.82,59.06h7.4M642.52,55.36v7.4M639.95,59.63h7.4M643.65,55.93v7.4M641.08,61.38h7.4M644.78,57.68v7.4M642.21,64.47h7.4M645.91,60.77v7.4M643.34,69.20h7.4M647.04,65.50v7.4M644.47,76.20h7.4M648.17,72.50v7.4M645.60,86.87h7.4M649.30,83.17v7.4M646.73,105.04h7.4M650.43,101.34v7.4M647.86,133.18h7.4M651.56,129.48v7.4M648.98,114.52h7.4M652.68,110.82v7.4M650.11,97.90h7.4M653.81,94.20v7.4M651.24,87.29h7.4M654.94,83.59v7.4M652.37,79.93h7.4M656.07,76.23v7.4M653.50,74.59h7.4M657.20,70.89v7.4M654.63,70.68h7.4M658.33,66.98v7.4M655.76,67.87h7.4M659.46,64.17v7.4M656.89,65.97h7.4M660.59,62.27v7.4M658.02,64.86h7.4M661.72,61.16v7.4M659.15,64.50h7.4M662.85,60.80v7.4M660.28,65.48h7.4M663.98,61.78v7.4M661.41,68.55h7.4M665.11,64.85v7.4M662.54,74.16h7.4M666.24,70.46v7.4M663.67,83.30h7.4M667.37,79.60v7.4M664.80,97.90h7.4M668.50,94.20v7.4M665.93,112.10h7.4M669.63,108.40v7.4M667.06,180.10h7.4M670.76,176.40v7.4M668.19,248.10h7.4M671.89,244.40v7.4M669.32,180.10h7.4M673.02,176.40v7.4M670.45,112.10h7.4M674.15,108.40v7.4M671.58,104.41h7.4M675.28,100.71v7.4M672.71,93.20h7.4M676.41,89.50v7.4M673.84,84.78h7.4M677.54,81.08v7.4M674.97,78.97h7.4M678.67,75.27v7.4M676.10,75.17h7.4M679.80,71.47v7.4M677.23,73.02h7.4M680.93,69.32v7.4M678.36,72.32h7.4M682.06,68.62v7.4M679.49,73.34h7.4M683.19,69.64v7.4M680.62,76.56h7.4M684.32,72.86v7.4M681.75,82.54h7.4M685.45,78.84v7.4M682.87,92.75h7.4M686.57,89.05v7.4M684.00,112.04h7.4M687.70,108.34v7.4M685.13,175.00h7.4M688.83,171.30v7.4M686.26,135.17h7.4M689.96,131.47v7.4M687.39,117.76h7.4M691.09,114.06v7.4M688.52,109.99h7.4M692.22,106.29v7.4M689.65,107.68h7.4M693.35,103.98v7.4M690.78,111.39h7.4M694.48,107.69v7.4M691.91,123.87h7.4M695.61,120.17v7.4M693.04,139.98h7.4M696.74,136.28v7.4M694.17,118.21h7.4M697.87,114.51v7.4M695.30,101.47h7.4M699.00,97.77v7.4M696.43,91.79h7.4M700.13,88.09v7.4M697.56,85.99h7.4M701.26,82.29v7.4M698.69,82.84h7.4M702.39,79.14v7.4M699.82,81.84h7.4M703.52,78.14v7.4M700.95,82.27h7.4M704.65,78.57v7.4M702.08,83.58h7.4M705.78,79.88v7.4M703.21,85.85h7.4M706.91,82.15v7.4M704.34,89.22h7.4M708.04,85.52v7.4M705.47,93.92h7.4M709.17,90.22v7.4M706.60,100.33h7.4M710.30,96.63v7.4M707.73,108.97h7.4M711.43,105.27v7.4M708.86,119.78h7.4M712.56,116.08v7.4M709.99,126.72h7.4M713.69,123.02v7.4M711.12,121.48h7.4M714.82,117.78v7.4M712.25,112.31h7.4M715.95,108.61v7.4M713.38,104.40h7.4M717.08,100.70v7.4M714.51,98.33h7.4M718.21,94.63v7.4M715.64,93.80h7.4M719.34,90.10v7.4M716.76,90.53h7.4M720.46,86.83v7.4M717.89,88.31h7.4M721.59,84.61v7.4M719.02,87.02h7.4M722.72,83.32v7.4M720.15,86.60h7.4M723.85,82.90v7.4M721.28,87.17h7.4M724.98,83.47v7.4M722.41,88.93h7.4M726.11,85.23v7.4M723.54,92.03h7.4M727.24,88.33v7.4M724.67,96.79h7.4M728.37,93.09v7.4M725.80,103.85h7.4M729.50,100.15v7.4M726.93,114.70h7.4M730.63,111.00v7.4M728.06,133.73h7.4M731.76,130.03v7.4M729.19,171.60h7.4M732.89,167.90v7.4M730.32,151.67h7.4M734.02,147.97v7.4M731.45,135.33h7.4M735.15,131.63v7.4M732.58,125.74h7.4M736.28,122.04v7.4M733.71,119.98h7.4M737.41,116.28v7.4M734.84,116.84h7.4M738.54,113.14v7.4M735.97,115.84h7.4M739.67,112.14v7.4M737.10,124.81h7.4M740.80,121.11v7.4M738.23,151.54h7.4M741.93,147.84v7.4M739.36,132.14h7.4M743.06,128.44v7.4M740.49,115.41h7.4M744.19,111.71v7.4M741.62,104.89h7.4M745.32,101.19v7.4M742.75,97.72h7.4M746.45,94.02v7.4M743.88,92.66h7.4M747.58,88.96v7.4M745.01,89.09h7.4M748.71,85.39v7.4M746.14,86.72h7.4M749.84,83.02v7.4M747.27,85.35h7.4M750.97,81.65v7.4M748.40,84.90h7.4M752.10,81.20v7.4M749.53,85.27h7.4M753.23,81.57v7.4M750.65,86.38h7.4M754.36,82.68v7.4M751.78,88.30h7.4M755.48,84.60v7.4M752.91,91.15h7.4M756.61,87.45v7.4M754.04,95.11h7.4M757.74,91.41v7.4M755.17,100.55h7.4M758.87,96.85v7.4M756.30,108.13h7.4M760.00,104.43v7.4M757.43,119.36h7.4M761.13,115.66v7.4M758.56,138.78h7.4M762.26,135.08v7.4M759.69,180.10h7.4M763.39,176.40v7.4M760.82,207.30h7.4M764.52,203.60v7.4M761.95,234.50h7.4M765.65,230.80v7.4M763.08,261.70h7.4M766.78,258.00v7.4M764.21,239.03h7.4M767.91,235.33v7.4M765.34,216.37h7.4M769.04,212.67v7.4M766.47,193.70h7.4M770.17,190.00v7.4M767.60,176.70h7.4M771.30,173.00v7.4" stroke="#0072BD" stroke-width="1.25"/>
</g>
<line x1="29.0" y1="2.80" x2="29.0" y2="275.5" stroke="#262626" stroke-width="1"/>
<line x1="28.5" y1="275.5" x2="368.00" y2="275.5" stroke="#262626" stroke-width="1"/>
<line x1="29.0" y1="3.5" x2="33.0" y2="3.5" stroke="#262626" stroke-width="1"/>
<text x="25.2" y="7.4" class="tk" text-anchor="end">0</text>
<line x1="29.0" y1="37.5" x2="33.0" y2="37.5" stroke="#262626" stroke-width="1"/>
<text x="25.2" y="41.4" class="tk" text-anchor="end">-10</text>
<line x1="29.0" y1="71.5" x2="33.0" y2="71.5" stroke="#262626" stroke-width="1"/>
<text x="25.2" y="75.4" class="tk" text-anchor="end">-20</text>
<line x1="29.0" y1="105.5" x2="33.0" y2="105.5" stroke="#262626" stroke-width="1"/>
<text x="25.2" y="109.4" class="tk" text-anchor="end">-30</text>
<line x1="29.0" y1="139.5" x2="33.0" y2="139.5" stroke="#262626" stroke-width="1"/>
<text x="25.2" y="143.4" class="tk" text-anchor="end">-40</text>
<line x1="29.0" y1="173.5" x2="33.0" y2="173.5" stroke="#262626" stroke-width="1"/>
<text x="25.2" y="177.4" class="tk" text-anchor="end">-50</text>
<line x1="29.0" y1="207.5" x2="33.0" y2="207.5" stroke="#262626" stroke-width="1"/>
<text x="25.2" y="211.4" class="tk" text-anchor="end">-60</text>
<line x1="29.0" y1="241.5" x2="33.0" y2="241.5" stroke="#262626" stroke-width="1"/>
<text x="25.2" y="245.4" class="tk" text-anchor="end">-70</text>
<line x1="29.0" y1="275.5" x2="33.0" y2="275.5" stroke="#262626" stroke-width="1"/>
<text x="25.2" y="279.4" class="tk" text-anchor="end">-80</text>
<line x1="28.5" y1="275" x2="28.5" y2="271.5" stroke="#262626" stroke-width="1"/>
<text x="29.0" y="289" class="tk" text-anchor="middle">-60</text>
<line x1="85.5" y1="275" x2="85.5" y2="271.5" stroke="#262626" stroke-width="1"/>
<text x="85.4" y="289" class="tk" text-anchor="middle">-40</text>
<line x1="141.5" y1="275" x2="141.5" y2="271.5" stroke="#262626" stroke-width="1"/>
<text x="141.9" y="289" class="tk" text-anchor="middle">-20</text>
<line x1="198.5" y1="275" x2="198.5" y2="271.5" stroke="#262626" stroke-width="1"/>
<text x="198.3" y="289" class="tk" text-anchor="middle">0</text>
<line x1="254.5" y1="275" x2="254.5" y2="271.5" stroke="#262626" stroke-width="1"/>
<text x="254.8" y="289" class="tk" text-anchor="middle">20</text>
<line x1="311.5" y1="275" x2="311.5" y2="271.5" stroke="#262626" stroke-width="1"/>
<text x="311.2" y="289" class="tk" text-anchor="middle">40</text>
<line x1="367.5" y1="275" x2="367.5" y2="271.5" stroke="#262626" stroke-width="1"/>
<text x="367.7" y="289" class="tk" text-anchor="middle">60</text>
<line x1="432.5" y1="2.80" x2="432.5" y2="275.5" stroke="#262626" stroke-width="1"/>
<line x1="432.0" y1="275.5" x2="771.60" y2="275.5" stroke="#262626" stroke-width="1"/>
<line x1="432.5" y1="3.5" x2="436.5" y2="3.5" stroke="#262626" stroke-width="1"/>
<text x="428.7" y="7.4" class="tk" text-anchor="end">0</text>
<line x1="432.5" y1="37.5" x2="436.5" y2="37.5" stroke="#262626" stroke-width="1"/>
<text x="428.7" y="41.4" class="tk" text-anchor="end">-10</text>
<line x1="432.5" y1="71.5" x2="436.5" y2="71.5" stroke="#262626" stroke-width="1"/>
<text x="428.7" y="75.4" class="tk" text-anchor="end">-20</text>
<line x1="432.5" y1="105.5" x2="436.5" y2="105.5" stroke="#262626" stroke-width="1"/>
<text x="428.7" y="109.4" class="tk" text-anchor="end">-30</text>
<line x1="432.5" y1="139.5" x2="436.5" y2="139.5" stroke="#262626" stroke-width="1"/>
<text x="428.7" y="143.4" class="tk" text-anchor="end">-40</text>
<line x1="432.5" y1="173.5" x2="436.5" y2="173.5" stroke="#262626" stroke-width="1"/>
<text x="428.7" y="177.4" class="tk" text-anchor="end">-50</text>
<line x1="432.5" y1="207.5" x2="436.5" y2="207.5" stroke="#262626" stroke-width="1"/>
<text x="428.7" y="211.4" class="tk" text-anchor="end">-60</text>
<line x1="432.5" y1="241.5" x2="436.5" y2="241.5" stroke="#262626" stroke-width="1"/>
<text x="428.7" y="245.4" class="tk" text-anchor="end">-70</text>
<line x1="432.5" y1="275.5" x2="436.5" y2="275.5" stroke="#262626" stroke-width="1"/>
<text x="428.7" y="279.4" class="tk" text-anchor="end">-80</text>
<line x1="432.5" y1="275" x2="432.5" y2="271.5" stroke="#262626" stroke-width="1"/>
<text x="432.4" y="289" class="tk" text-anchor="middle">-60</text>
<line x1="488.5" y1="275" x2="488.5" y2="271.5" stroke="#262626" stroke-width="1"/>
<text x="488.9" y="289" class="tk" text-anchor="middle">-40</text>
<line x1="545.5" y1="275" x2="545.5" y2="271.5" stroke="#262626" stroke-width="1"/>
<text x="545.4" y="289" class="tk" text-anchor="middle">-20</text>
<line x1="601.5" y1="275" x2="601.5" y2="271.5" stroke="#262626" stroke-width="1"/>
<text x="601.8" y="289" class="tk" text-anchor="middle">0</text>
<line x1="658.5" y1="275" x2="658.5" y2="271.5" stroke="#262626" stroke-width="1"/>
<text x="658.3" y="289" class="tk" text-anchor="middle">20</text>
<line x1="714.5" y1="275" x2="714.5" y2="271.5" stroke="#262626" stroke-width="1"/>
<text x="714.8" y="289" class="tk" text-anchor="middle">40</text>
<line x1="771.5" y1="275" x2="771.5" y2="271.5" stroke="#262626" stroke-width="1"/>
<text x="771.3" y="289" class="tk" text-anchor="middle">60</text>
<rect x="182.0" y="230.5" width="196.5" height="41.0" fill="#fff" stroke="#262626" stroke-width="1"/>
<line x1="187" y1="238.4" x2="216.3" y2="238.4" stroke="#0072BD" stroke-width="1.5"/>
<path d="M197.65,238.4H205.65M201.65,234.20000000000002V242.4" stroke="#0072BD" stroke-width="1.5"/>
<text x="218.5" y="241.6" class="lg">Proposed method</text>
<line x1="187" y1="250.4" x2="216.3" y2="250.4" stroke="#D95319" stroke-width="1.5"/>
<text x="218.5" y="254.39999999999998" class="lg">Conventional LCMV</text>
<line x1="187" y1="262.8" x2="216.3" y2="262.8" stroke="#EDB120" stroke-width="1.5" stroke-dasharray="4.6,4.2"/>
<text x="218.5" y="267.09999999999997" class="lg">RAB with multi-directional constraints</text>
<rect x="591.5" y="233.0" width="187.0" height="38.5" fill="#fff" stroke="#262626" stroke-width="1"/>
<line x1="596" y1="240.4" x2="623.4" y2="240.4" stroke="#0072BD" stroke-width="1.5"/>
<path d="M605.7,240.4H613.7M609.7,236.20000000000002V244.4" stroke="#0072BD" stroke-width="1.5"/>
<text x="626" y="243.6" class="lg">Proposed method</text>
<line x1="596" y1="252.2" x2="623.4" y2="252.2" stroke="#D95319" stroke-width="1.5"/>
<text x="626" y="256.2" class="lg">Conventional LCMV</text>
<line x1="596" y1="263.6" x2="623.4" y2="263.6" stroke="#EDB120" stroke-width="1.5" stroke-dasharray="4.6,4.2"/>
<text x="626" y="267.5" class="lg">RAB with multi-directional constraints</text>
<text transform="translate(8.4,139.3) rotate(-90)" class="yl" text-anchor="middle">Amplitude (dB)</text>
<text transform="translate(411,140) rotate(-90)" class="yl" text-anchor="middle">Amplitude (dB)</text>
<text x="181" y="297.5" class="xl"><tspan>&#981;</tspan> (deg)</text>
<text x="585.6" y="297.5" class="xl"><tspan font-style="italic">&#981;</tspan> (deg)</text>
<text x="196.7" y="316.3" class="sub" text-anchor="middle">(a)</text>
<text x="601.5" y="316.3" class="sub" text-anchor="middle">(b)</text>
</svg></body></html>
